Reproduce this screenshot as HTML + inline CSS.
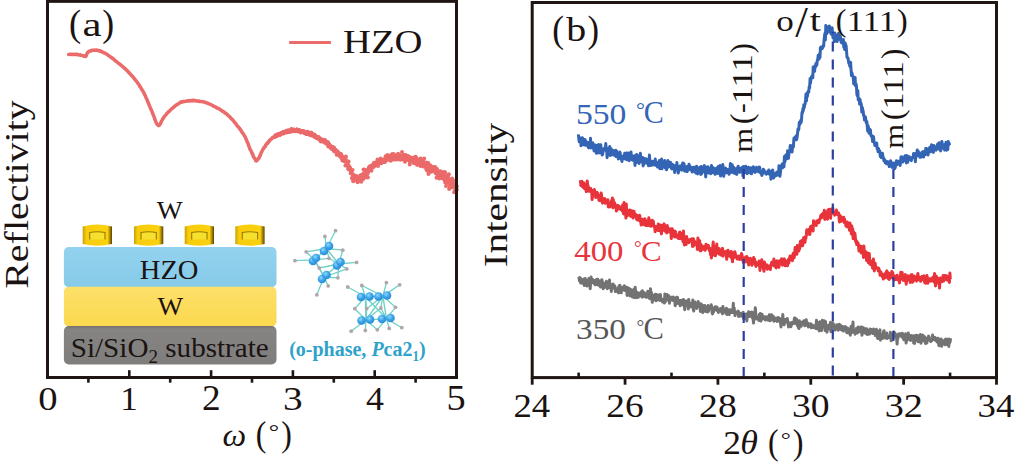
<!DOCTYPE html>
<html><head><meta charset="utf-8"><title>Figure</title>
<style>html,body{margin:0;padding:0;background:#fff;width:1016px;height:462px;overflow:hidden}svg{display:block}</style>
</head><body>
<svg width="1016" height="462" viewBox="0 0 1016 462" style="font-family:'Liberation Serif', serif">
<rect width="1016" height="462" fill="#fff"/>
<defs><linearGradient id="gb" x1="0" y1="0" x2="0" y2="1"><stop offset="0" stop-color="#93d2ee"/><stop offset="1" stop-color="#86cbe9"/></linearGradient><linearGradient id="gy" x1="0" y1="0" x2="0" y2="1"><stop offset="0" stop-color="#fde06a"/><stop offset="1" stop-color="#fbd84e"/></linearGradient><linearGradient id="gg" x1="0" y1="0" x2="0" y2="1"><stop offset="0" stop-color="#75706f"/><stop offset="0.08" stop-color="#858483"/><stop offset="1" stop-color="#7f7e7c"/></linearGradient><linearGradient id="gp" x1="0" y1="0" x2="1" y2="0"><stop offset="0" stop-color="#c9a000"/><stop offset="0.12" stop-color="#f7cc0a"/><stop offset="0.85" stop-color="#fbd210"/><stop offset="1" stop-color="#5a4000"/></linearGradient></defs>
<rect x="63.9" y="247" width="212.6" height="40.2" rx="5" fill="url(#gb)"/>
<rect x="63.9" y="286.8" width="212.6" height="39.6" rx="5" fill="url(#gy)"/>
<rect x="63.9" y="326" width="212.6" height="38.5" rx="5" fill="url(#gg)"/>
<path d="M82.7,226.5 Q97.35,222.5 112,226.5 L112,244 Q97.35,247.5 82.7,244 Z" fill="url(#gp)"/>
<path d="M89.7,239.5 L89.7,232.5 Q97.35,231 105,232.5 L105,239.5" fill="#f5e030" stroke="#9a7a00" stroke-width="1.1"/>
<path d="M134,226.5 Q148.65,222.5 163.3,226.5 L163.3,244 Q148.65,247.5 134,244 Z" fill="url(#gp)"/>
<path d="M141,239.5 L141,232.5 Q148.65,231 156.3,232.5 L156.3,239.5" fill="#f5e030" stroke="#9a7a00" stroke-width="1.1"/>
<path d="M184.7,226.5 Q199.35,222.5 214,226.5 L214,244 Q199.35,247.5 184.7,244 Z" fill="url(#gp)"/>
<path d="M191.7,239.5 L191.7,232.5 Q199.35,231 207,232.5 L207,239.5" fill="#f5e030" stroke="#9a7a00" stroke-width="1.1"/>
<path d="M235.3,226.5 Q249.95,222.5 264.6,226.5 L264.6,244 Q249.95,247.5 235.3,244 Z" fill="url(#gp)"/>
<path d="M242.3,239.5 L242.3,232.5 Q249.95,231 257.6,232.5 L257.6,239.5" fill="#f5e030" stroke="#9a7a00" stroke-width="1.1"/>
<defs><radialGradient id="ball" cx="0.4" cy="0.35" r="0.65"><stop offset="0" stop-color="#8fd8fb"/><stop offset="0.55" stop-color="#3aa3e8"/><stop offset="1" stop-color="#2a8ad6"/></radialGradient><filter id="soft" x="-10%" y="-10%" width="120%" height="120%"><feGaussianBlur stdDeviation="0.6"/></filter></defs>
<g filter="url(#soft)">
<line x1="314.4" y1="259.9" x2="326.5" y2="248.5" stroke="#6fd3c6" stroke-width="1.4"/>
<line x1="326.5" y1="248.5" x2="338.7" y2="264.0" stroke="#6fd3c6" stroke-width="1.4"/>
<line x1="338.7" y1="264.0" x2="324.1" y2="277.0" stroke="#6fd3c6" stroke-width="1.4"/>
<line x1="324.1" y1="277.0" x2="314.4" y2="259.9" stroke="#6fd3c6" stroke-width="1.4"/>
<line x1="335.5" y1="230.7" x2="326.5" y2="248.5" stroke="#6fd3c6" stroke-width="1.3"/>
<line x1="324.9" y1="236.4" x2="326.5" y2="248.5" stroke="#6fd3c6" stroke-width="1.3"/>
<line x1="306.2" y1="251.8" x2="314.4" y2="259.9" stroke="#6fd3c6" stroke-width="1.3"/>
<line x1="294.9" y1="260.7" x2="314.4" y2="259.9" stroke="#6fd3c6" stroke-width="1.3"/>
<line x1="342.8" y1="250.2" x2="326.5" y2="248.5" stroke="#6fd3c6" stroke-width="1.3"/>
<line x1="342.8" y1="250.2" x2="338.7" y2="264.0" stroke="#6fd3c6" stroke-width="1.3"/>
<line x1="356.6" y1="262.4" x2="338.7" y2="264.0" stroke="#6fd3c6" stroke-width="1.3"/>
<line x1="346.8" y1="268.9" x2="338.7" y2="264.0" stroke="#6fd3c6" stroke-width="1.3"/>
<line x1="337.9" y1="277.8" x2="338.7" y2="264.0" stroke="#6fd3c6" stroke-width="1.3"/>
<line x1="337.9" y1="277.8" x2="324.1" y2="277.0" stroke="#6fd3c6" stroke-width="1.3"/>
<line x1="328.2" y1="285.9" x2="324.1" y2="277.0" stroke="#6fd3c6" stroke-width="1.3"/>
<line x1="316.8" y1="294.8" x2="324.1" y2="277.0" stroke="#6fd3c6" stroke-width="1.3"/>
<line x1="319.2" y1="268.0" x2="314.4" y2="259.9" stroke="#6fd3c6" stroke-width="1.3"/>
<line x1="319.2" y1="268.0" x2="324.1" y2="277.0" stroke="#6fd3c6" stroke-width="1.3"/>
<line x1="329.0" y1="258.3" x2="326.5" y2="248.5" stroke="#6fd3c6" stroke-width="1.3"/>
<line x1="329.0" y1="258.3" x2="338.7" y2="264.0" stroke="#6fd3c6" stroke-width="1.3"/>
<line x1="306.2" y1="251.8" x2="326.5" y2="248.5" stroke="#6fd3c6" stroke-width="1.3"/>
<line x1="346.8" y1="268.9" x2="324.1" y2="277.0" stroke="#6fd3c6" stroke-width="1.3"/>
<line x1="319.2" y1="268.0" x2="338.7" y2="264.0" stroke="#6fd3c6" stroke-width="1.3"/>
<line x1="329.0" y1="258.3" x2="314.4" y2="259.9" stroke="#6fd3c6" stroke-width="1.3"/>
<circle cx="335.5" cy="230.7" r="1.9" fill="#b3a6ab"/>
<circle cx="324.9" cy="236.4" r="1.9" fill="#b3a6ab"/>
<circle cx="306.2" cy="251.8" r="1.9" fill="#b3a6ab"/>
<circle cx="294.9" cy="260.7" r="1.9" fill="#b3a6ab"/>
<circle cx="342.8" cy="250.2" r="1.9" fill="#b3a6ab"/>
<circle cx="356.6" cy="262.4" r="1.9" fill="#b3a6ab"/>
<circle cx="346.8" cy="268.9" r="1.9" fill="#b3a6ab"/>
<circle cx="337.9" cy="277.8" r="1.9" fill="#b3a6ab"/>
<circle cx="328.2" cy="285.9" r="1.9" fill="#b3a6ab"/>
<circle cx="316.8" cy="294.8" r="1.9" fill="#b3a6ab"/>
<circle cx="319.2" cy="268.0" r="1.9" fill="#b3a6ab"/>
<circle cx="329.0" cy="258.3" r="1.9" fill="#b3a6ab"/>
<circle cx="313" cy="261" r="4.3" fill="url(#ball)"/>
<circle cx="316" cy="258" r="4.3" fill="url(#ball)"/>
<circle cx="324" cy="251" r="4.3" fill="url(#ball)"/>
<circle cx="329" cy="246" r="4.3" fill="url(#ball)"/>
<circle cx="337" cy="265.5" r="4.3" fill="url(#ball)"/>
<circle cx="340.5" cy="262" r="4.3" fill="url(#ball)"/>
<circle cx="322" cy="279" r="4.3" fill="url(#ball)"/>
<circle cx="326.5" cy="275" r="4.3" fill="url(#ball)"/>
<line x1="365.3" y1="296.8" x2="382.9" y2="296.1" stroke="#6fd3c6" stroke-width="1.4"/>
<line x1="366.0" y1="320.0" x2="386.4" y2="318.6" stroke="#6fd3c6" stroke-width="1.4"/>
<line x1="365.3" y1="296.8" x2="366.0" y2="320.0" stroke="#6fd3c6" stroke-width="1.4"/>
<line x1="382.9" y1="296.1" x2="386.4" y2="318.6" stroke="#6fd3c6" stroke-width="1.4"/>
<line x1="365.3" y1="296.8" x2="386.4" y2="318.6" stroke="#6fd3c6" stroke-width="1.4"/>
<line x1="382.9" y1="296.1" x2="366.0" y2="320.0" stroke="#6fd3c6" stroke-width="1.4"/>
<line x1="347.7" y1="287.0" x2="365.3" y2="296.8" stroke="#6fd3c6" stroke-width="1.3"/>
<line x1="361.8" y1="285.5" x2="365.3" y2="296.8" stroke="#6fd3c6" stroke-width="1.3"/>
<line x1="361.8" y1="285.5" x2="382.9" y2="296.1" stroke="#6fd3c6" stroke-width="1.3"/>
<line x1="386.4" y1="282.7" x2="382.9" y2="296.1" stroke="#6fd3c6" stroke-width="1.3"/>
<line x1="399.7" y1="284.8" x2="382.9" y2="296.1" stroke="#6fd3c6" stroke-width="1.3"/>
<line x1="354.8" y1="308.7" x2="365.3" y2="296.8" stroke="#6fd3c6" stroke-width="1.3"/>
<line x1="354.8" y1="308.7" x2="366.0" y2="320.0" stroke="#6fd3c6" stroke-width="1.3"/>
<line x1="366.7" y1="308.7" x2="365.3" y2="296.8" stroke="#6fd3c6" stroke-width="1.3"/>
<line x1="366.7" y1="308.7" x2="366.0" y2="320.0" stroke="#6fd3c6" stroke-width="1.3"/>
<line x1="366.7" y1="308.7" x2="382.9" y2="296.1" stroke="#6fd3c6" stroke-width="1.3"/>
<line x1="380.8" y1="308.0" x2="382.9" y2="296.1" stroke="#6fd3c6" stroke-width="1.3"/>
<line x1="380.8" y1="308.0" x2="386.4" y2="318.6" stroke="#6fd3c6" stroke-width="1.3"/>
<line x1="380.8" y1="308.0" x2="366.0" y2="320.0" stroke="#6fd3c6" stroke-width="1.3"/>
<line x1="395.5" y1="307.3" x2="382.9" y2="296.1" stroke="#6fd3c6" stroke-width="1.3"/>
<line x1="395.5" y1="307.3" x2="386.4" y2="318.6" stroke="#6fd3c6" stroke-width="1.3"/>
<line x1="351.2" y1="331.2" x2="366.0" y2="320.0" stroke="#6fd3c6" stroke-width="1.3"/>
<line x1="365.3" y1="330.5" x2="366.0" y2="320.0" stroke="#6fd3c6" stroke-width="1.3"/>
<line x1="377.3" y1="329.8" x2="386.4" y2="318.6" stroke="#6fd3c6" stroke-width="1.3"/>
<line x1="377.3" y1="329.8" x2="366.0" y2="320.0" stroke="#6fd3c6" stroke-width="1.3"/>
<line x1="389.2" y1="328.4" x2="386.4" y2="318.6" stroke="#6fd3c6" stroke-width="1.3"/>
<line x1="401.8" y1="327.7" x2="386.4" y2="318.6" stroke="#6fd3c6" stroke-width="1.3"/>
<circle cx="347.7" cy="287.0" r="1.9" fill="#b3a6ab"/>
<circle cx="361.8" cy="285.5" r="1.9" fill="#b3a6ab"/>
<circle cx="386.4" cy="282.7" r="1.9" fill="#b3a6ab"/>
<circle cx="399.7" cy="284.8" r="1.9" fill="#b3a6ab"/>
<circle cx="354.8" cy="308.7" r="1.9" fill="#b3a6ab"/>
<circle cx="366.7" cy="308.7" r="1.9" fill="#b3a6ab"/>
<circle cx="380.8" cy="308.0" r="1.9" fill="#b3a6ab"/>
<circle cx="395.5" cy="307.3" r="1.9" fill="#b3a6ab"/>
<circle cx="351.2" cy="331.2" r="1.9" fill="#b3a6ab"/>
<circle cx="365.3" cy="330.5" r="1.9" fill="#b3a6ab"/>
<circle cx="377.3" cy="329.8" r="1.9" fill="#b3a6ab"/>
<circle cx="389.2" cy="328.4" r="1.9" fill="#b3a6ab"/>
<circle cx="401.8" cy="327.7" r="1.9" fill="#b3a6ab"/>
<circle cx="361" cy="297" r="4.3" fill="url(#ball)"/>
<circle cx="369.5" cy="296.5" r="4.3" fill="url(#ball)"/>
<circle cx="378.5" cy="296.5" r="4.3" fill="url(#ball)"/>
<circle cx="387" cy="295.5" r="4.3" fill="url(#ball)"/>
<circle cx="361.5" cy="320.5" r="4.3" fill="url(#ball)"/>
<circle cx="370" cy="319.5" r="4.3" fill="url(#ball)"/>
<circle cx="382" cy="319" r="4.3" fill="url(#ball)"/>
<circle cx="390.5" cy="318" r="4.3" fill="url(#ball)"/>
</g>
<path d="M68.6,54.4 L69.0,54.4 L69.5,54.4 L70.0,54.3 L70.4,54.3 L70.9,54.3 L71.3,54.4 L71.8,54.6 L72.2,54.3 L72.7,54.3 L73.1,54.5 L73.6,54.5 L74.0,54.4 L74.5,54.3 L74.9,54.4 L75.4,54.5 L75.8,54.3 L76.3,54.4 L76.7,54.3 L77.2,54.4 L77.6,54.4 L78.1,54.7 L78.5,54.7 L79.0,55.0 L79.4,55.0 L79.9,55.0 L80.3,54.8 L80.8,55.2 L81.2,55.3 L81.7,55.5 L82.1,55.4 L82.6,55.6 L83.0,55.7 L83.5,55.8 L83.9,56.2 L84.4,56.1 L84.8,56.3 L85.3,56.6 L85.7,56.4 L86.2,55.8 L86.6,54.6 L87.1,53.4 L87.5,52.5 L88.0,52.3 L88.4,52.1 L88.9,51.3 L89.3,51.4 L89.8,51.1 L90.2,50.8 L90.7,51.0 L91.1,50.7 L91.6,50.3 L92.0,50.4 L92.5,50.4 L92.9,50.2 L93.4,50.3 L93.8,50.1 L94.3,50.2 L94.7,50.3 L95.2,50.0 L95.6,50.2 L96.1,50.1 L96.5,50.3 L97.0,50.1 L97.4,50.3 L97.9,50.4 L98.3,50.7 L98.8,50.8 L99.2,50.6 L99.7,50.8 L100.1,51.2 L100.6,50.9 L101.0,51.3 L101.5,51.6 L101.9,52.0 L102.4,52.1 L102.8,52.1 L103.3,52.3 L103.7,52.5 L104.2,53.0 L104.6,53.0 L105.1,53.2 L105.5,53.6 L106.0,53.8 L106.4,54.0 L106.9,54.2 L107.3,54.6 L107.8,54.9 L108.2,55.4 L108.7,55.6 L109.1,55.9 L109.6,56.3 L110.0,56.5 L110.5,57.0 L110.9,57.2 L111.4,57.6 L111.8,57.7 L112.3,58.3 L112.7,58.3 L113.2,58.6 L113.6,59.2 L114.1,59.5 L114.5,60.0 L115.0,60.7 L115.4,60.6 L115.9,61.0 L116.3,61.5 L116.8,61.9 L117.2,62.1 L117.7,62.5 L118.1,63.0 L118.6,63.3 L119.0,63.4 L119.5,64.0 L119.9,64.3 L120.4,64.5 L120.8,65.1 L121.3,65.3 L121.7,66.0 L122.2,66.2 L122.6,66.6 L123.1,66.9 L123.5,67.4 L124.0,67.5 L124.4,68.0 L124.9,68.7 L125.3,68.7 L125.8,69.6 L126.2,69.6 L126.7,70.4 L127.1,70.6 L127.6,71.3 L128.0,71.6 L128.5,71.8 L128.9,72.7 L129.4,73.2 L129.8,73.4 L130.3,73.9 L130.7,74.4 L131.2,74.8 L131.6,75.6 L132.1,75.9 L132.5,76.4 L133.0,76.9 L133.4,77.4 L133.9,77.9 L134.3,78.8 L134.8,79.2 L135.2,79.9 L135.7,80.3 L136.1,80.8 L136.6,81.5 L137.0,82.1 L137.5,82.8 L137.9,83.4 L138.4,84.0 L138.8,84.5 L139.3,85.3 L139.7,86.3 L140.2,86.7 L140.6,87.3 L141.1,88.3 L141.5,89.1 L142.0,89.5 L142.4,90.4 L142.9,91.1 L143.3,91.7 L143.8,92.9 L144.2,93.7 L144.7,94.6 L145.1,95.4 L145.6,96.6 L146.0,97.5 L146.5,98.6 L146.9,99.5 L147.4,100.5 L147.8,102.0 L148.3,102.8 L148.7,104.0 L149.2,105.1 L149.6,106.1 L150.1,107.2 L150.5,108.4 L151.0,109.3 L151.4,110.3 L151.9,111.3 L152.3,112.6 L152.8,113.6 L153.2,114.8 L153.7,115.9 L154.1,117.0 L154.6,118.6 L155.0,119.8 L155.5,120.8 L155.9,122.0 L156.4,123.0 L156.8,123.8 L157.3,124.6 L157.7,124.9 L158.2,125.5 L158.6,125.2 L159.1,125.4 L159.5,124.9 L160.0,124.4 L160.4,123.8 L160.9,122.8 L161.3,121.5 L161.8,120.5 L162.2,120.0 L162.7,118.9 L163.1,118.4 L163.6,117.9 L164.0,116.9 L164.5,116.2 L164.9,116.0 L165.4,115.4 L165.8,114.8 L166.3,114.4 L166.7,113.7 L167.2,113.1 L167.6,112.8 L168.1,112.2 L168.5,111.7 L169.0,111.6 L169.4,111.1 L169.9,110.7 L170.3,110.1 L170.8,109.7 L171.2,109.2 L171.7,108.8 L172.1,108.5 L172.6,108.0 L173.0,107.7 L173.5,107.3 L173.9,107.2 L174.4,106.3 L174.8,106.3 L175.3,105.8 L175.7,105.4 L176.2,104.9 L176.6,104.8 L177.1,104.7 L177.5,104.3 L178.0,104.0 L178.4,103.7 L178.9,103.6 L179.3,103.2 L179.8,102.6 L180.2,102.6 L180.7,102.2 L181.1,101.8 L181.6,102.0 L182.0,102.2 L182.5,101.8 L182.9,101.5 L183.4,101.5 L183.8,101.7 L184.3,101.5 L184.7,101.4 L185.2,101.3 L185.6,101.2 L186.1,101.3 L186.5,101.2 L187.0,101.1 L187.4,100.8 L187.9,101.0 L188.3,100.8 L188.8,101.0 L189.2,100.6 L189.7,100.7 L190.1,100.7 L190.6,100.5 L191.0,100.9 L191.5,100.8 L191.9,100.5 L192.4,100.7 L192.8,100.7 L193.3,100.2 L193.7,100.7 L194.2,100.6 L194.6,100.7 L195.1,100.5 L195.5,100.7 L196.0,100.7 L196.4,101.0 L196.9,100.9 L197.3,100.9 L197.8,101.2 L198.2,100.9 L198.7,101.0 L199.1,100.9 L199.6,101.4 L200.0,101.4 L200.5,101.5 L200.9,101.5 L201.4,101.5 L201.8,101.6 L202.3,101.6 L202.7,101.7 L203.2,101.8 L203.6,102.1 L204.1,102.1 L204.5,102.1 L205.0,102.2 L205.4,102.3 L205.9,102.8 L206.3,102.8 L206.8,102.9 L207.2,103.0 L207.7,103.1 L208.1,103.4 L208.6,103.7 L209.0,103.8 L209.5,104.0 L209.9,104.2 L210.4,104.4 L210.8,104.4 L211.3,104.8 L211.7,105.0 L212.2,105.4 L212.6,105.4 L213.1,105.8 L213.5,106.2 L214.0,106.2 L214.4,106.4 L214.9,106.7 L215.3,106.9 L215.8,107.0 L216.2,107.4 L216.7,107.9 L217.1,107.8 L217.6,108.0 L218.0,108.2 L218.5,108.6 L218.9,108.6 L219.4,108.9 L219.8,109.5 L220.3,109.5 L220.7,110.1 L221.2,110.4 L221.6,110.5 L222.1,110.8 L222.5,111.3 L223.0,111.3 L223.4,111.6 L223.9,111.8 L224.3,112.3 L224.8,112.9 L225.2,113.1 L225.7,113.2 L226.1,113.5 L226.6,113.9 L227.0,114.4 L227.5,114.7 L227.9,115.2 L228.4,115.6 L228.8,115.9 L229.3,116.4 L229.7,116.8 L230.2,117.3 L230.6,117.8 L231.1,118.5 L231.5,118.8 L232.0,119.2 L232.4,119.5 L232.9,120.3 L233.3,120.5 L233.8,121.1 L234.2,122.0 L234.7,122.6 L235.1,123.0 L235.6,123.3 L236.0,124.1 L236.5,124.6 L236.9,125.3 L237.4,126.2 L237.8,126.4 L238.3,126.8 L238.7,127.3 L239.2,128.1 L239.6,128.6 L240.1,129.1 L240.5,129.9 L241.0,130.3 L241.4,131.3 L241.9,131.9 L242.3,132.6 L242.8,133.0 L243.2,133.9 L243.7,134.5 L244.1,135.2 L244.6,136.0 L245.0,136.6 L245.5,137.5 L245.9,138.9 L246.4,139.7 L246.8,140.9 L247.3,142.2 L247.7,142.7 L248.2,144.1 L248.6,145.5 L249.1,146.7 L249.5,147.6 L250.0,149.1 L250.4,149.9 L250.9,150.5 L251.3,151.4 L251.8,152.8 L252.2,153.7 L252.7,154.0 L253.1,155.9 L253.6,156.7 L254.0,157.8 L254.5,158.1 L254.9,158.8 L255.4,159.2 L255.8,160.8 L256.3,160.2 L256.7,160.8 L257.2,159.9 L257.6,159.8 L258.1,158.7 L258.5,158.5 L259.0,158.2 L259.4,156.5 L259.9,156.4 L260.3,155.1 L260.8,153.6 L261.2,152.8 L261.7,151.8 L262.1,151.0 L262.6,150.0 L263.0,149.1 L263.5,148.7 L263.9,147.7 L264.4,147.0 L264.8,146.8 L265.3,146.6 L265.7,144.9 L266.2,144.9 L266.6,144.0 L267.1,143.2 L267.5,143.4 L268.0,142.2 L268.4,142.6 L268.9,141.0 L269.3,141.0 L269.8,140.3 L270.2,139.5 L270.7,139.7 L271.1,139.0 L271.6,139.0 L272.0,138.3 L272.5,137.5 L272.9,137.7 L273.4,137.5 L273.8,137.6 L274.3,136.4 L274.7,136.6 L275.2,135.4 L275.6,136.5 L276.1,135.3 L276.5,134.7 L277.0,135.4 L277.4,135.8 L277.9,134.1 L278.3,134.2 L278.8,134.2 L279.2,133.7 L279.7,134.4 L280.1,133.5 L280.6,133.4 L281.0,134.0 L281.5,133.0 L281.9,133.5 L282.4,132.5 L282.8,132.2 L283.3,131.6 L283.7,133.7 L284.2,132.2 L284.6,132.3 L285.1,132.0 L285.5,131.9 L286.0,131.7 L286.4,132.8 L286.9,130.7 L287.3,130.3 L287.8,130.5 L288.2,130.2 L288.7,131.6 L289.1,131.6 L289.6,130.3 L290.0,129.9 L290.5,130.6 L290.9,131.8 L291.4,128.7 L291.8,131.1 L292.3,129.9 L292.7,131.4 L293.2,129.8 L293.6,130.3 L294.1,129.4 L294.5,129.8 L295.0,131.5 L295.4,131.1 L295.9,130.2 L296.3,129.9 L296.8,129.1 L297.2,130.3 L297.7,130.6 L298.1,130.6 L298.6,130.7 L299.0,129.9 L299.5,130.9 L299.9,131.0 L300.4,132.1 L300.8,132.7 L301.3,131.2 L301.7,130.8 L302.2,131.5 L302.6,131.2 L303.1,131.2 L303.5,131.9 L304.0,131.2 L304.4,132.6 L304.9,132.2 L305.3,132.6 L305.8,132.4 L306.2,132.1 L306.7,132.0 L307.1,132.7 L307.6,132.6 L308.0,133.4 L308.5,133.4 L308.9,132.5 L309.4,133.8 L309.8,132.8 L310.3,133.6 L310.7,134.1 L311.2,132.8 L311.6,134.8 L312.1,135.0 L312.5,135.0 L313.0,135.0 L313.4,135.2 L313.9,134.9 L314.3,135.7 L314.8,135.7 L315.2,136.5 L315.7,135.7 L316.1,137.0 L316.6,137.2 L317.0,137.2 L317.5,137.2 L317.9,138.2 L318.4,136.7 L318.8,138.6 L319.3,138.7 L319.7,139.0 L320.2,139.4 L320.6,138.8 L321.1,139.4 L321.5,140.4 L322.0,140.5 L322.4,140.6 L322.9,139.6 L323.3,141.5 L323.8,142.3 L324.2,142.5 L324.7,142.2 L325.1,141.1 L325.6,143.4 L326.0,142.9 L326.5,141.3 L326.9,143.9 L327.4,142.8 L327.8,143.3 L328.3,144.1 L328.7,146.0 L329.2,145.1 L329.6,145.9 L330.1,147.5 L330.5,147.7 L331.0,146.7 L331.4,147.0 L331.9,146.6 L332.3,147.4 L332.8,148.7 L333.2,149.1 L333.7,149.3 L334.1,150.4 L334.6,149.4 L335.0,150.4 L335.5,151.5 L335.9,151.8 L336.4,152.6 L336.8,152.5 L337.3,152.4 L337.7,153.4 L338.2,152.7 L338.6,152.7 L339.1,154.9 L339.5,154.9 L340.0,155.6 L340.4,154.5 L340.9,156.0 L341.3,156.3 L341.8,156.5 L342.2,155.9 L342.7,157.9 L343.1,159.4 L343.6,159.5 L344.0,159.3 L344.5,160.3 L344.9,161.5 L345.4,159.2 L345.8,161.9 L346.3,163.1 L346.7,163.9 L347.2,165.5 L347.6,165.8 L348.1,166.0 L348.5,166.8 L349.0,168.1 L349.4,167.9 L349.9,169.2 L350.3,170.9 L350.8,172.5 L351.2,171.6 L351.7,172.4 L352.1,173.3 L352.6,174.9 L353.0,174.5 L353.5,176.4 L353.9,175.2 L354.4,176.5 L354.8,177.1 L355.3,178.5 L355.7,179.3 L356.2,177.7 L356.6,178.5 L357.1,179.7 L357.5,179.0 L358.0,178.3 L358.4,180.2 L358.9,179.6 L359.3,179.4 L359.8,178.4 L360.2,179.4 L360.7,178.1 L361.1,178.8 L361.6,176.8 L362.0,176.5 L362.5,177.0 L362.9,175.9 L363.4,176.6 L363.8,175.9 L364.3,174.5 L364.7,174.9 L365.2,174.0 L365.6,174.5 L366.1,172.6 L366.5,172.1 L367.0,172.8 L367.4,172.9 L367.9,172.1 L368.3,169.9 L368.8,169.5 L369.2,170.0 L369.7,168.2 L370.1,167.1 L370.6,167.7 L371.0,167.6 L371.5,166.3 L371.9,165.3 L372.4,165.2 L372.8,166.6 L373.3,165.2 L373.7,165.4 L374.2,165.4 L374.6,165.5 L375.1,164.5 L375.5,165.0 L376.0,163.6 L376.4,163.8 L376.9,163.1 L377.3,164.6 L377.8,163.4 L378.2,162.6 L378.7,162.7 L379.1,162.6 L379.6,163.1 L380.0,161.0 L380.5,161.2 L380.9,161.5 L381.4,163.5 L381.8,162.0 L382.3,160.8 L382.7,161.2 L383.2,162.0 L383.6,159.9 L384.1,159.5 L384.5,160.5 L385.0,159.6 L385.4,159.5 L385.9,158.3 L386.3,160.1 L386.8,159.7 L387.2,158.6 L387.7,158.5 L388.1,156.2 L388.6,158.2 L389.0,157.5 L389.5,157.9 L389.9,158.0 L390.4,157.2 L390.8,156.0 L391.3,157.6 L391.7,156.6 L392.2,156.9 L392.6,156.6 L393.1,156.8 L393.5,155.2 L394.0,157.9 L394.4,157.1 L394.9,157.8 L395.3,158.4 L395.8,156.9 L396.2,155.4 L396.7,156.1 L397.1,155.8 L397.6,156.4 L398.0,156.9 L398.5,155.2 L398.9,157.1 L399.4,155.7 L399.8,157.1 L400.3,156.9 L400.7,156.7 L401.2,157.0 L401.6,156.7 L402.1,156.6 L402.5,155.8 L403.0,157.2 L403.4,158.8 L403.9,159.0 L404.3,158.5 L404.8,158.1 L405.2,157.0 L405.7,158.8 L406.1,157.7 L406.6,157.7 L407.0,157.6 L407.5,158.0 L407.9,157.7 L408.4,158.1 L408.8,157.4 L409.3,158.0 L409.7,160.3 L410.2,158.5 L410.6,158.5 L411.1,159.2 L411.5,159.5 L412.0,158.2 L412.4,159.0 L412.9,160.1 L413.3,159.7 L413.8,159.7 L414.2,161.0 L414.7,159.4 L415.1,160.2 L415.6,159.8 L416.0,161.6 L416.5,159.0 L416.9,160.2 L417.4,160.5 L417.8,161.6 L418.3,161.7 L418.7,162.6 L419.2,160.4 L419.6,162.5 L420.1,161.8 L420.5,161.8 L421.0,163.0 L421.4,162.0 L421.9,161.4 L422.3,163.0 L422.8,162.4 L423.2,163.3 L423.7,164.4 L424.1,164.6 L424.6,165.9 L425.0,164.8 L425.5,164.0 L425.9,164.9 L426.4,165.1 L426.8,165.1 L427.3,166.8 L427.7,166.2 L428.2,165.4 L428.6,167.8 L429.1,167.5 L429.5,168.1 L430.0,168.2 L430.4,168.9 L430.9,168.7 L431.3,170.0 L431.8,169.6 L432.2,169.9 L432.7,170.2 L433.1,169.0 L433.6,170.4 L434.0,170.6 L434.5,171.3 L434.9,170.4 L435.4,173.1 L435.8,172.1 L436.3,171.4 L436.7,171.3 L437.2,172.8 L437.6,173.2 L438.1,173.0 L438.5,174.0 L439.0,173.7 L439.4,175.0 L439.9,174.3 L440.3,175.1 L440.8,176.2 L441.2,177.8 L441.7,175.2 L442.1,175.9 L442.6,175.9 L443.0,177.5 L443.5,176.3 L443.9,177.1 L444.4,177.8 L444.8,177.3 L445.3,177.6 L445.7,178.3 L446.2,177.3 L446.6,178.2 L447.1,179.4 L447.5,180.1 L448.0,180.2 L448.4,179.3 L448.9,180.7 L449.3,182.1 L449.8,182.3 L450.2,182.2 L450.7,182.0 L451.1,183.7 L451.6,183.2 L452.0,183.2 L452.5,183.9 L452.9,186.2 L453.4,185.8 L453.8,187.0 L454.3,186.2 L454.7,187.9 L455.2,187.2 L455.6,188.1 L456.1,190.8 L456.5,190.0 L457.0,189.5" fill="none" stroke="#eb6a6a" stroke-width="3.5" stroke-linejoin="round" stroke-linecap="round"/>
<g fill="#eb6a6a"><circle cx="274.9" cy="136.4" r="2.0"/><circle cx="274.9" cy="136.4" r="2.0"/><circle cx="275.7" cy="136.4" r="2.0"/><circle cx="276.5" cy="135.8" r="2.0"/><circle cx="276.1" cy="135.2" r="2.0"/><circle cx="276.7" cy="135.5" r="2.0"/><circle cx="276.7" cy="135.4" r="2.0"/><circle cx="277.0" cy="135.3" r="2.0"/><circle cx="277.3" cy="135.5" r="2.0"/><circle cx="278.4" cy="135.0" r="2.0"/><circle cx="279.0" cy="135.0" r="2.0"/><circle cx="278.8" cy="134.3" r="2.0"/><circle cx="278.7" cy="134.8" r="2.0"/><circle cx="279.5" cy="135.0" r="2.0"/><circle cx="279.5" cy="134.5" r="2.0"/><circle cx="280.2" cy="134.2" r="2.0"/><circle cx="280.4" cy="134.0" r="2.0"/><circle cx="280.7" cy="134.4" r="2.0"/><circle cx="281.1" cy="133.4" r="2.0"/><circle cx="281.1" cy="133.5" r="2.0"/><circle cx="281.5" cy="133.6" r="2.0"/><circle cx="281.4" cy="133.5" r="2.0"/><circle cx="282.1" cy="133.0" r="2.0"/><circle cx="282.2" cy="133.1" r="2.0"/><circle cx="282.9" cy="132.8" r="2.0"/><circle cx="283.0" cy="132.8" r="2.0"/><circle cx="283.6" cy="132.5" r="2.0"/><circle cx="284.0" cy="132.0" r="2.0"/><circle cx="283.8" cy="132.3" r="2.0"/><circle cx="284.3" cy="132.5" r="2.0"/><circle cx="284.6" cy="131.7" r="2.0"/><circle cx="285.5" cy="131.8" r="2.0"/><circle cx="286.1" cy="132.1" r="2.0"/><circle cx="286.1" cy="131.3" r="2.0"/><circle cx="286.1" cy="131.6" r="2.0"/><circle cx="287.0" cy="131.1" r="2.0"/><circle cx="286.4" cy="131.8" r="2.0"/><circle cx="287.7" cy="132.2" r="2.0"/><circle cx="287.3" cy="132.1" r="2.0"/><circle cx="287.0" cy="131.1" r="2.0"/><circle cx="289.0" cy="131.5" r="2.0"/><circle cx="289.0" cy="131.1" r="2.0"/><circle cx="288.6" cy="131.1" r="2.0"/><circle cx="289.2" cy="131.7" r="2.0"/><circle cx="289.5" cy="130.4" r="2.0"/><circle cx="289.9" cy="131.4" r="2.0"/><circle cx="289.7" cy="130.9" r="2.0"/><circle cx="290.3" cy="131.5" r="2.0"/><circle cx="291.0" cy="130.9" r="2.0"/><circle cx="291.2" cy="130.5" r="2.0"/><circle cx="291.9" cy="130.9" r="2.0"/><circle cx="291.9" cy="131.0" r="2.0"/><circle cx="292.9" cy="130.7" r="2.0"/><circle cx="292.3" cy="130.9" r="2.0"/><circle cx="292.9" cy="130.4" r="2.0"/><circle cx="292.6" cy="129.5" r="2.0"/><circle cx="293.1" cy="131.0" r="2.0"/><circle cx="294.2" cy="130.9" r="2.0"/><circle cx="293.9" cy="130.6" r="2.0"/><circle cx="294.6" cy="130.6" r="2.0"/><circle cx="294.8" cy="131.0" r="2.0"/><circle cx="294.8" cy="130.3" r="2.0"/><circle cx="295.4" cy="130.1" r="2.0"/><circle cx="295.6" cy="130.4" r="2.0"/><circle cx="296.0" cy="131.1" r="2.0"/><circle cx="296.7" cy="129.8" r="2.0"/><circle cx="297.0" cy="131.2" r="2.0"/><circle cx="296.9" cy="130.2" r="2.0"/><circle cx="297.2" cy="130.0" r="2.0"/><circle cx="297.9" cy="131.3" r="2.0"/><circle cx="298.1" cy="130.6" r="2.0"/><circle cx="298.7" cy="130.0" r="2.0"/><circle cx="299.6" cy="130.6" r="2.0"/><circle cx="299.3" cy="131.4" r="2.0"/><circle cx="299.4" cy="131.6" r="2.0"/><circle cx="299.7" cy="130.7" r="2.0"/><circle cx="299.8" cy="131.3" r="2.0"/><circle cx="300.1" cy="131.5" r="2.0"/><circle cx="300.4" cy="130.8" r="2.0"/><circle cx="301.0" cy="131.5" r="2.0"/><circle cx="301.3" cy="131.3" r="2.0"/><circle cx="302.0" cy="131.1" r="2.0"/><circle cx="301.9" cy="131.2" r="2.0"/><circle cx="302.3" cy="131.7" r="2.0"/><circle cx="302.4" cy="131.7" r="2.0"/><circle cx="303.5" cy="131.4" r="2.0"/><circle cx="303.5" cy="131.6" r="2.0"/><circle cx="304.2" cy="132.7" r="2.0"/><circle cx="304.3" cy="132.2" r="2.0"/><circle cx="304.8" cy="132.7" r="2.0"/><circle cx="304.6" cy="133.0" r="2.0"/><circle cx="305.2" cy="132.7" r="2.0"/><circle cx="306.2" cy="133.9" r="2.0"/><circle cx="305.3" cy="132.0" r="2.0"/><circle cx="306.4" cy="133.1" r="2.0"/><circle cx="306.9" cy="132.5" r="2.0"/><circle cx="306.8" cy="134.1" r="2.0"/><circle cx="307.2" cy="134.1" r="2.0"/><circle cx="307.7" cy="131.7" r="2.0"/><circle cx="307.5" cy="132.4" r="2.0"/><circle cx="308.1" cy="133.7" r="2.0"/><circle cx="308.1" cy="133.9" r="2.0"/><circle cx="308.5" cy="134.0" r="2.0"/><circle cx="308.8" cy="133.6" r="2.0"/><circle cx="309.3" cy="134.1" r="2.0"/><circle cx="309.7" cy="134.3" r="2.0"/><circle cx="310.1" cy="133.9" r="2.0"/><circle cx="309.9" cy="134.9" r="2.0"/><circle cx="311.2" cy="132.6" r="2.0"/><circle cx="311.3" cy="134.9" r="2.0"/><circle cx="311.5" cy="133.8" r="2.0"/><circle cx="311.5" cy="135.4" r="2.0"/><circle cx="311.9" cy="134.7" r="2.0"/><circle cx="312.5" cy="134.3" r="2.0"/><circle cx="312.7" cy="135.4" r="2.0"/><circle cx="312.4" cy="134.6" r="2.0"/><circle cx="313.5" cy="134.7" r="2.0"/><circle cx="314.5" cy="134.4" r="2.0"/><circle cx="313.4" cy="135.8" r="2.0"/><circle cx="314.6" cy="136.3" r="2.0"/><circle cx="314.7" cy="136.9" r="2.0"/><circle cx="314.9" cy="136.1" r="2.0"/><circle cx="315.7" cy="137.3" r="2.0"/><circle cx="315.2" cy="136.6" r="2.0"/><circle cx="316.0" cy="136.7" r="2.0"/><circle cx="316.7" cy="137.4" r="2.0"/><circle cx="316.5" cy="138.0" r="2.0"/><circle cx="316.8" cy="137.0" r="2.0"/><circle cx="317.3" cy="137.2" r="2.0"/><circle cx="317.4" cy="137.5" r="2.0"/><circle cx="318.4" cy="137.8" r="2.0"/><circle cx="318.0" cy="137.2" r="2.0"/><circle cx="318.8" cy="139.0" r="2.0"/><circle cx="318.5" cy="138.0" r="2.0"/><circle cx="319.4" cy="138.9" r="2.0"/><circle cx="319.5" cy="138.0" r="2.0"/><circle cx="319.1" cy="139.2" r="2.0"/><circle cx="320.2" cy="139.4" r="2.0"/><circle cx="320.2" cy="138.9" r="2.0"/><circle cx="320.7" cy="141.3" r="2.0"/><circle cx="321.7" cy="140.0" r="2.0"/><circle cx="321.2" cy="141.5" r="2.0"/><circle cx="321.5" cy="141.0" r="2.0"/><circle cx="322.6" cy="139.7" r="2.0"/><circle cx="322.6" cy="140.2" r="2.0"/><circle cx="323.3" cy="141.2" r="2.0"/><circle cx="323.3" cy="141.1" r="2.0"/><circle cx="323.2" cy="141.3" r="2.0"/><circle cx="323.8" cy="141.2" r="2.0"/><circle cx="324.5" cy="140.0" r="2.0"/><circle cx="324.8" cy="141.7" r="2.0"/><circle cx="324.8" cy="140.1" r="2.0"/><circle cx="325.2" cy="142.7" r="2.0"/><circle cx="325.5" cy="141.9" r="2.0"/><circle cx="325.6" cy="142.2" r="2.0"/><circle cx="326.7" cy="142.9" r="2.0"/><circle cx="326.5" cy="143.6" r="2.0"/><circle cx="326.5" cy="142.2" r="2.0"/><circle cx="327.0" cy="142.1" r="2.0"/><circle cx="327.7" cy="143.0" r="2.0"/><circle cx="328.0" cy="142.3" r="2.0"/><circle cx="328.1" cy="143.6" r="2.0"/><circle cx="328.3" cy="146.4" r="2.0"/><circle cx="328.8" cy="144.0" r="2.0"/><circle cx="328.6" cy="146.0" r="2.0"/><circle cx="329.0" cy="144.2" r="2.0"/><circle cx="330.0" cy="146.2" r="2.0"/><circle cx="330.0" cy="145.8" r="2.0"/><circle cx="330.6" cy="146.3" r="2.0"/><circle cx="331.1" cy="147.2" r="2.0"/><circle cx="331.3" cy="148.7" r="2.0"/><circle cx="331.4" cy="147.4" r="2.0"/><circle cx="332.4" cy="147.6" r="2.0"/><circle cx="332.3" cy="146.8" r="2.0"/><circle cx="332.3" cy="148.7" r="2.0"/><circle cx="333.0" cy="148.1" r="2.0"/><circle cx="333.2" cy="149.6" r="2.0"/><circle cx="333.1" cy="148.9" r="2.0"/><circle cx="333.8" cy="151.1" r="2.0"/><circle cx="334.0" cy="147.5" r="2.0"/><circle cx="333.8" cy="149.6" r="2.0"/><circle cx="334.7" cy="151.2" r="2.0"/><circle cx="335.0" cy="150.1" r="2.0"/><circle cx="335.3" cy="150.0" r="2.0"/><circle cx="335.2" cy="150.9" r="2.0"/><circle cx="335.9" cy="150.0" r="2.0"/><circle cx="336.4" cy="151.9" r="2.0"/><circle cx="336.7" cy="154.8" r="2.0"/><circle cx="336.7" cy="153.7" r="2.0"/><circle cx="337.6" cy="151.5" r="2.0"/><circle cx="337.3" cy="152.1" r="2.0"/><circle cx="338.0" cy="153.0" r="2.0"/><circle cx="338.8" cy="154.9" r="2.0"/><circle cx="338.5" cy="153.2" r="2.0"/><circle cx="338.9" cy="153.6" r="2.0"/><circle cx="339.7" cy="155.8" r="2.0"/><circle cx="339.6" cy="156.1" r="2.0"/><circle cx="339.9" cy="155.0" r="2.0"/><circle cx="340.4" cy="154.5" r="2.0"/><circle cx="341.0" cy="154.3" r="2.0"/><circle cx="340.3" cy="155.6" r="2.0"/><circle cx="341.1" cy="154.2" r="2.0"/><circle cx="341.3" cy="158.0" r="2.0"/><circle cx="341.7" cy="156.7" r="2.0"/><circle cx="342.1" cy="158.4" r="2.0"/><circle cx="342.4" cy="160.4" r="2.0"/><circle cx="343.1" cy="160.0" r="2.0"/><circle cx="343.0" cy="157.6" r="2.0"/><circle cx="343.7" cy="160.4" r="2.0"/><circle cx="344.1" cy="161.1" r="2.0"/><circle cx="344.1" cy="159.2" r="2.0"/><circle cx="344.7" cy="159.4" r="2.0"/><circle cx="345.5" cy="160.8" r="2.0"/><circle cx="345.4" cy="157.5" r="2.0"/><circle cx="345.4" cy="165.4" r="2.0"/><circle cx="345.9" cy="156.4" r="2.0"/><circle cx="346.0" cy="160.0" r="2.0"/><circle cx="346.7" cy="162.5" r="2.0"/><circle cx="347.2" cy="163.2" r="2.0"/><circle cx="347.0" cy="164.7" r="2.0"/><circle cx="347.5" cy="165.6" r="2.0"/><circle cx="348.3" cy="165.0" r="2.0"/><circle cx="348.1" cy="168.9" r="2.0"/><circle cx="348.6" cy="161.5" r="2.0"/><circle cx="348.6" cy="167.4" r="2.0"/><circle cx="349.0" cy="166.3" r="2.0"/><circle cx="349.4" cy="169.1" r="2.0"/><circle cx="350.6" cy="169.9" r="2.0"/><circle cx="350.1" cy="167.7" r="2.0"/><circle cx="350.4" cy="169.0" r="2.0"/><circle cx="350.7" cy="173.2" r="2.0"/><circle cx="351.2" cy="172.7" r="2.0"/><circle cx="351.8" cy="170.6" r="2.0"/><circle cx="351.9" cy="178.0" r="2.0"/><circle cx="352.8" cy="179.2" r="2.0"/><circle cx="352.6" cy="170.1" r="2.0"/><circle cx="353.3" cy="175.1" r="2.0"/><circle cx="353.3" cy="181.2" r="2.0"/><circle cx="353.7" cy="177.4" r="2.0"/><circle cx="353.4" cy="176.5" r="2.0"/><circle cx="354.2" cy="175.9" r="2.0"/><circle cx="354.5" cy="175.5" r="2.0"/><circle cx="354.8" cy="176.8" r="2.0"/><circle cx="354.5" cy="176.4" r="2.0"/><circle cx="355.8" cy="180.1" r="2.0"/><circle cx="355.7" cy="177.6" r="2.0"/><circle cx="356.0" cy="177.8" r="2.0"/><circle cx="356.4" cy="176.0" r="2.0"/><circle cx="356.8" cy="179.2" r="2.0"/><circle cx="357.3" cy="177.1" r="2.0"/><circle cx="357.1" cy="179.0" r="2.0"/><circle cx="357.6" cy="182.2" r="2.0"/><circle cx="358.2" cy="180.4" r="2.0"/><circle cx="358.5" cy="180.7" r="2.0"/><circle cx="358.7" cy="180.2" r="2.0"/><circle cx="359.0" cy="179.3" r="2.0"/><circle cx="359.2" cy="178.6" r="2.0"/><circle cx="359.8" cy="178.0" r="2.0"/><circle cx="360.5" cy="180.6" r="2.0"/><circle cx="360.2" cy="175.5" r="2.0"/><circle cx="361.3" cy="181.7" r="2.0"/><circle cx="361.4" cy="178.0" r="2.0"/><circle cx="361.3" cy="175.6" r="2.0"/><circle cx="362.0" cy="176.1" r="2.0"/><circle cx="361.7" cy="175.3" r="2.0"/><circle cx="361.9" cy="177.2" r="2.0"/><circle cx="362.4" cy="174.6" r="2.0"/><circle cx="363.0" cy="179.3" r="2.0"/><circle cx="363.3" cy="173.9" r="2.0"/><circle cx="363.6" cy="169.6" r="2.0"/><circle cx="364.1" cy="173.4" r="2.0"/><circle cx="363.8" cy="169.7" r="2.0"/><circle cx="364.9" cy="174.6" r="2.0"/><circle cx="364.7" cy="177.2" r="2.0"/><circle cx="365.2" cy="175.7" r="2.0"/><circle cx="365.6" cy="169.9" r="2.0"/><circle cx="365.7" cy="171.0" r="2.0"/><circle cx="366.0" cy="177.5" r="2.0"/><circle cx="366.4" cy="173.0" r="2.0"/><circle cx="367.1" cy="171.6" r="2.0"/><circle cx="367.6" cy="174.1" r="2.0"/><circle cx="367.9" cy="177.4" r="2.0"/><circle cx="367.8" cy="172.2" r="2.0"/><circle cx="368.2" cy="170.0" r="2.0"/><circle cx="368.4" cy="169.9" r="2.0"/><circle cx="369.2" cy="169.9" r="2.0"/><circle cx="368.8" cy="167.6" r="2.0"/><circle cx="370.1" cy="166.6" r="2.0"/><circle cx="369.9" cy="168.1" r="2.0"/><circle cx="370.1" cy="166.2" r="2.0"/><circle cx="370.8" cy="167.4" r="2.0"/><circle cx="371.3" cy="167.4" r="2.0"/><circle cx="371.5" cy="170.7" r="2.0"/><circle cx="372.0" cy="165.4" r="2.0"/><circle cx="372.1" cy="166.3" r="2.0"/><circle cx="372.7" cy="166.1" r="2.0"/><circle cx="373.1" cy="166.8" r="2.0"/><circle cx="373.0" cy="167.6" r="2.0"/><circle cx="373.8" cy="164.9" r="2.0"/><circle cx="373.7" cy="164.2" r="2.0"/><circle cx="374.0" cy="162.7" r="2.0"/><circle cx="374.1" cy="163.7" r="2.0"/><circle cx="374.6" cy="165.9" r="2.0"/><circle cx="375.2" cy="164.9" r="2.0"/><circle cx="374.9" cy="163.0" r="2.0"/><circle cx="375.8" cy="163.9" r="2.0"/><circle cx="376.1" cy="164.4" r="2.0"/><circle cx="376.4" cy="165.0" r="2.0"/><circle cx="376.0" cy="163.0" r="2.0"/><circle cx="376.9" cy="163.4" r="2.0"/><circle cx="377.5" cy="160.6" r="2.0"/><circle cx="377.4" cy="161.6" r="2.0"/><circle cx="378.0" cy="166.1" r="2.0"/><circle cx="377.6" cy="159.5" r="2.0"/><circle cx="378.8" cy="162.4" r="2.0"/><circle cx="378.8" cy="163.2" r="2.0"/><circle cx="379.5" cy="162.0" r="2.0"/><circle cx="379.1" cy="161.1" r="2.0"/><circle cx="380.1" cy="162.2" r="2.0"/><circle cx="380.2" cy="162.1" r="2.0"/><circle cx="380.8" cy="161.8" r="2.0"/><circle cx="380.7" cy="158.5" r="2.0"/><circle cx="381.1" cy="161.3" r="2.0"/><circle cx="382.3" cy="159.9" r="2.0"/><circle cx="381.7" cy="160.2" r="2.0"/><circle cx="382.0" cy="161.3" r="2.0"/><circle cx="382.5" cy="161.9" r="2.0"/><circle cx="382.6" cy="162.1" r="2.0"/><circle cx="383.6" cy="159.4" r="2.0"/><circle cx="384.1" cy="161.7" r="2.0"/><circle cx="383.7" cy="162.0" r="2.0"/><circle cx="383.7" cy="161.7" r="2.0"/><circle cx="384.9" cy="162.0" r="2.0"/><circle cx="385.2" cy="159.0" r="2.0"/><circle cx="385.5" cy="158.8" r="2.0"/><circle cx="385.9" cy="160.4" r="2.0"/><circle cx="385.6" cy="156.2" r="2.0"/><circle cx="386.2" cy="158.9" r="2.0"/><circle cx="386.1" cy="157.4" r="2.0"/><circle cx="386.4" cy="157.6" r="2.0"/><circle cx="387.5" cy="154.9" r="2.0"/><circle cx="387.3" cy="156.4" r="2.0"/><circle cx="388.5" cy="157.9" r="2.0"/><circle cx="388.2" cy="159.4" r="2.0"/><circle cx="388.3" cy="159.6" r="2.0"/><circle cx="389.1" cy="157.5" r="2.0"/><circle cx="389.7" cy="157.3" r="2.0"/><circle cx="389.7" cy="156.0" r="2.0"/><circle cx="389.5" cy="158.3" r="2.0"/><circle cx="390.3" cy="157.0" r="2.0"/><circle cx="390.9" cy="158.5" r="2.0"/><circle cx="390.7" cy="160.7" r="2.0"/><circle cx="390.9" cy="157.2" r="2.0"/><circle cx="391.8" cy="154.4" r="2.0"/><circle cx="391.9" cy="155.6" r="2.0"/><circle cx="391.8" cy="154.4" r="2.0"/><circle cx="392.4" cy="154.8" r="2.0"/><circle cx="392.6" cy="159.6" r="2.0"/><circle cx="393.2" cy="157.5" r="2.0"/><circle cx="393.5" cy="154.1" r="2.0"/><circle cx="394.1" cy="158.2" r="2.0"/><circle cx="394.3" cy="159.4" r="2.0"/><circle cx="394.0" cy="156.2" r="2.0"/><circle cx="394.9" cy="155.6" r="2.0"/><circle cx="395.4" cy="156.2" r="2.0"/><circle cx="395.6" cy="157.4" r="2.0"/><circle cx="396.1" cy="158.1" r="2.0"/><circle cx="395.9" cy="159.1" r="2.0"/><circle cx="396.2" cy="159.2" r="2.0"/><circle cx="397.0" cy="159.1" r="2.0"/><circle cx="396.8" cy="159.5" r="2.0"/><circle cx="396.8" cy="158.1" r="2.0"/><circle cx="398.1" cy="153.8" r="2.0"/><circle cx="397.9" cy="156.6" r="2.0"/><circle cx="398.3" cy="157.4" r="2.0"/><circle cx="398.3" cy="156.1" r="2.0"/><circle cx="398.7" cy="158.7" r="2.0"/><circle cx="399.1" cy="156.2" r="2.0"/><circle cx="399.6" cy="155.0" r="2.0"/><circle cx="400.2" cy="159.8" r="2.0"/><circle cx="399.7" cy="158.3" r="2.0"/><circle cx="401.0" cy="157.4" r="2.0"/><circle cx="400.7" cy="158.9" r="2.0"/><circle cx="401.1" cy="159.2" r="2.0"/><circle cx="401.9" cy="157.8" r="2.0"/><circle cx="402.0" cy="152.1" r="2.0"/><circle cx="401.9" cy="155.8" r="2.0"/><circle cx="403.3" cy="156.3" r="2.0"/><circle cx="402.8" cy="155.2" r="2.0"/><circle cx="403.4" cy="157.7" r="2.0"/><circle cx="403.8" cy="159.8" r="2.0"/><circle cx="404.5" cy="156.4" r="2.0"/><circle cx="404.2" cy="155.1" r="2.0"/><circle cx="405.0" cy="161.7" r="2.0"/><circle cx="404.8" cy="156.6" r="2.0"/><circle cx="405.7" cy="155.0" r="2.0"/><circle cx="405.5" cy="158.2" r="2.0"/><circle cx="405.9" cy="158.6" r="2.0"/><circle cx="406.9" cy="156.3" r="2.0"/><circle cx="406.8" cy="159.5" r="2.0"/><circle cx="407.0" cy="156.8" r="2.0"/><circle cx="408.0" cy="156.0" r="2.0"/><circle cx="407.8" cy="158.4" r="2.0"/><circle cx="407.7" cy="159.7" r="2.0"/><circle cx="408.5" cy="156.8" r="2.0"/><circle cx="408.3" cy="158.9" r="2.0"/><circle cx="409.3" cy="158.1" r="2.0"/><circle cx="409.7" cy="164.4" r="2.0"/><circle cx="409.5" cy="156.9" r="2.0"/><circle cx="409.8" cy="161.5" r="2.0"/><circle cx="410.4" cy="158.5" r="2.0"/><circle cx="410.6" cy="158.4" r="2.0"/><circle cx="410.7" cy="160.3" r="2.0"/><circle cx="411.5" cy="160.8" r="2.0"/><circle cx="411.0" cy="161.7" r="2.0"/><circle cx="411.8" cy="159.8" r="2.0"/><circle cx="412.2" cy="157.8" r="2.0"/><circle cx="412.5" cy="158.1" r="2.0"/><circle cx="413.0" cy="160.5" r="2.0"/><circle cx="412.9" cy="160.7" r="2.0"/><circle cx="413.8" cy="162.7" r="2.0"/><circle cx="413.9" cy="160.6" r="2.0"/><circle cx="414.1" cy="162.1" r="2.0"/><circle cx="414.2" cy="163.3" r="2.0"/><circle cx="414.6" cy="160.4" r="2.0"/><circle cx="415.4" cy="156.8" r="2.0"/><circle cx="415.3" cy="157.6" r="2.0"/><circle cx="415.9" cy="157.2" r="2.0"/><circle cx="416.6" cy="164.1" r="2.0"/><circle cx="416.9" cy="158.7" r="2.0"/><circle cx="417.4" cy="163.5" r="2.0"/><circle cx="417.1" cy="162.2" r="2.0"/><circle cx="417.2" cy="164.9" r="2.0"/><circle cx="418.2" cy="163.4" r="2.0"/><circle cx="418.3" cy="161.0" r="2.0"/><circle cx="418.9" cy="160.9" r="2.0"/><circle cx="418.9" cy="161.7" r="2.0"/><circle cx="419.6" cy="162.1" r="2.0"/><circle cx="419.8" cy="160.6" r="2.0"/><circle cx="420.1" cy="161.9" r="2.0"/><circle cx="420.4" cy="165.9" r="2.0"/><circle cx="420.6" cy="158.4" r="2.0"/><circle cx="420.9" cy="163.1" r="2.0"/><circle cx="421.3" cy="160.6" r="2.0"/><circle cx="421.8" cy="163.3" r="2.0"/><circle cx="421.7" cy="165.0" r="2.0"/><circle cx="422.7" cy="163.1" r="2.0"/><circle cx="422.5" cy="165.2" r="2.0"/><circle cx="423.1" cy="159.9" r="2.0"/><circle cx="423.1" cy="166.4" r="2.0"/><circle cx="423.4" cy="162.6" r="2.0"/><circle cx="424.4" cy="165.7" r="2.0"/><circle cx="424.1" cy="164.9" r="2.0"/><circle cx="424.1" cy="158.5" r="2.0"/><circle cx="424.6" cy="163.1" r="2.0"/><circle cx="425.1" cy="165.6" r="2.0"/><circle cx="426.1" cy="169.0" r="2.0"/><circle cx="425.9" cy="166.2" r="2.0"/><circle cx="426.4" cy="166.3" r="2.0"/><circle cx="426.2" cy="162.5" r="2.0"/><circle cx="426.9" cy="169.6" r="2.0"/><circle cx="427.3" cy="170.7" r="2.0"/><circle cx="428.0" cy="166.6" r="2.0"/><circle cx="427.6" cy="166.2" r="2.0"/><circle cx="428.3" cy="163.1" r="2.0"/><circle cx="428.5" cy="169.3" r="2.0"/><circle cx="428.5" cy="173.9" r="2.0"/><circle cx="429.1" cy="169.3" r="2.0"/><circle cx="429.4" cy="170.9" r="2.0"/><circle cx="429.1" cy="169.3" r="2.0"/><circle cx="430.3" cy="165.8" r="2.0"/><circle cx="430.6" cy="171.7" r="2.0"/><circle cx="430.6" cy="165.6" r="2.0"/><circle cx="430.7" cy="168.3" r="2.0"/><circle cx="431.9" cy="169.8" r="2.0"/><circle cx="431.8" cy="171.5" r="2.0"/><circle cx="432.4" cy="170.5" r="2.0"/><circle cx="432.8" cy="170.7" r="2.0"/><circle cx="432.6" cy="168.1" r="2.0"/><circle cx="433.3" cy="167.0" r="2.0"/><circle cx="433.3" cy="170.6" r="2.0"/><circle cx="433.7" cy="168.9" r="2.0"/><circle cx="434.0" cy="167.6" r="2.0"/><circle cx="434.4" cy="167.9" r="2.0"/><circle cx="435.1" cy="170.1" r="2.0"/><circle cx="435.1" cy="166.9" r="2.0"/><circle cx="435.3" cy="168.4" r="2.0"/><circle cx="435.6" cy="167.9" r="2.0"/><circle cx="436.1" cy="172.7" r="2.0"/><circle cx="436.1" cy="173.5" r="2.0"/><circle cx="436.5" cy="177.8" r="2.0"/><circle cx="437.0" cy="169.1" r="2.0"/><circle cx="437.2" cy="171.4" r="2.0"/><circle cx="437.7" cy="175.7" r="2.0"/><circle cx="437.8" cy="173.0" r="2.0"/><circle cx="439.0" cy="173.0" r="2.0"/><circle cx="439.1" cy="178.4" r="2.0"/><circle cx="439.1" cy="173.4" r="2.0"/><circle cx="439.3" cy="171.5" r="2.0"/><circle cx="440.3" cy="171.3" r="2.0"/><circle cx="440.1" cy="175.8" r="2.0"/><circle cx="440.3" cy="176.0" r="2.0"/><circle cx="440.8" cy="171.8" r="2.0"/><circle cx="441.1" cy="173.0" r="2.0"/><circle cx="441.7" cy="177.2" r="2.0"/><circle cx="441.6" cy="177.5" r="2.0"/><circle cx="442.6" cy="174.6" r="2.0"/><circle cx="442.0" cy="178.1" r="2.0"/><circle cx="442.8" cy="178.2" r="2.0"/><circle cx="442.7" cy="172.2" r="2.0"/><circle cx="443.8" cy="176.3" r="2.0"/><circle cx="443.5" cy="178.4" r="2.0"/><circle cx="443.9" cy="176.0" r="2.0"/><circle cx="444.6" cy="172.1" r="2.0"/><circle cx="445.0" cy="177.2" r="2.0"/><circle cx="444.6" cy="180.2" r="2.0"/><circle cx="445.2" cy="182.6" r="2.0"/><circle cx="445.2" cy="172.8" r="2.0"/><circle cx="446.0" cy="185.9" r="2.0"/><circle cx="446.2" cy="176.1" r="2.0"/><circle cx="446.5" cy="181.9" r="2.0"/><circle cx="446.7" cy="182.9" r="2.0"/><circle cx="447.1" cy="182.5" r="2.0"/><circle cx="447.4" cy="180.5" r="2.0"/><circle cx="448.1" cy="177.2" r="2.0"/><circle cx="448.7" cy="182.3" r="2.0"/><circle cx="448.0" cy="179.0" r="2.0"/><circle cx="448.9" cy="174.3" r="2.0"/><circle cx="449.1" cy="189.1" r="2.0"/><circle cx="449.7" cy="183.7" r="2.0"/><circle cx="449.6" cy="187.0" r="2.0"/><circle cx="450.2" cy="179.8" r="2.0"/><circle cx="450.2" cy="186.7" r="2.0"/><circle cx="451.1" cy="187.3" r="2.0"/><circle cx="451.2" cy="187.6" r="2.0"/><circle cx="451.5" cy="183.6" r="2.0"/><circle cx="452.0" cy="180.7" r="2.0"/><circle cx="452.1" cy="183.8" r="2.0"/><circle cx="452.1" cy="178.6" r="2.0"/><circle cx="453.0" cy="180.3" r="2.0"/><circle cx="453.3" cy="185.7" r="2.0"/><circle cx="453.5" cy="183.0" r="2.0"/><circle cx="454.2" cy="185.7" r="2.0"/><circle cx="454.6" cy="186.2" r="2.0"/><circle cx="454.2" cy="192.3" r="2.0"/><circle cx="454.6" cy="191.0" r="2.0"/><circle cx="455.6" cy="187.6" r="2.0"/><circle cx="455.9" cy="191.5" r="2.0"/><circle cx="455.6" cy="186.3" r="2.0"/><circle cx="455.8" cy="188.0" r="2.0"/><circle cx="456.3" cy="191.9" r="2.0"/><circle cx="456.7" cy="186.3" r="2.0"/></g>
<line x1="289.2" y1="42.6" x2="330.9" y2="42.6" stroke="#eb6a6a" stroke-width="3"/>
<rect x="47.5" y="1.35" width="409" height="376.15" fill="none" stroke="#1f1512" stroke-width="3"/>
<line x1="129.3" y1="370.2" x2="129.3" y2="377" stroke="#1f1512" stroke-width="2.6"/>
<line x1="211.1" y1="370.2" x2="211.1" y2="377" stroke="#1f1512" stroke-width="2.6"/>
<line x1="292.9" y1="370.2" x2="292.9" y2="377" stroke="#1f1512" stroke-width="2.6"/>
<line x1="374.7" y1="370.2" x2="374.7" y2="377" stroke="#1f1512" stroke-width="2.6"/>
<line x1="88.4" y1="378" x2="88.4" y2="382.7" stroke="#1f1512" stroke-width="2.6"/>
<line x1="170.2" y1="378" x2="170.2" y2="382.7" stroke="#1f1512" stroke-width="2.6"/>
<line x1="252" y1="378" x2="252" y2="382.7" stroke="#1f1512" stroke-width="2.6"/>
<line x1="333.8" y1="378" x2="333.8" y2="382.7" stroke="#1f1512" stroke-width="2.6"/>
<line x1="415.6" y1="378" x2="415.6" y2="382.7" stroke="#1f1512" stroke-width="2.6"/>
<path d="M578.9,276.7 L579.4,280.8 L579.8,277.6 L580.3,277.8 L580.7,283.1 L581.2,279.2 L581.6,280.8 L582.1,282.6 L582.5,283.1 L583.0,280.2 L583.4,281.2 L583.9,279.1 L584.3,285.6 L584.8,282.9 L585.2,278.6 L585.7,281.4 L586.1,283.2 L586.6,282.7 L587.0,286.1 L587.5,285.0 L587.9,280.3 L588.4,281.5 L588.8,278.6 L589.3,282.5 L589.7,282.3 L590.2,288.7 L590.6,282.3 L591.1,276.9 L591.5,280.5 L592.0,282.5 L592.4,279.2 L592.9,280.2 L593.3,281.5 L593.8,283.4 L594.2,282.2 L594.7,280.5 L595.1,284.7 L595.6,281.5 L596.0,281.7 L596.5,279.6 L596.9,281.1 L597.4,284.8 L597.8,279.2 L598.3,283.2 L598.7,285.2 L599.2,282.6 L599.6,284.2 L600.1,280.9 L600.5,287.1 L601.0,286.7 L601.4,284.6 L601.9,279.7 L602.3,281.6 L602.8,286.7 L603.2,288.7 L603.7,285.2 L604.1,287.7 L604.6,283.2 L605.0,284.3 L605.5,284.9 L605.9,286.1 L606.4,281.3 L606.8,287.6 L607.3,288.6 L607.7,282.5 L608.2,282.1 L608.6,286.5 L609.1,284.1 L609.5,279.9 L610.0,288.0 L610.4,286.4 L610.9,285.0 L611.3,291.5 L611.8,286.7 L612.2,284.6 L612.7,286.9 L613.1,284.1 L613.6,285.0 L614.0,288.0 L614.5,285.7 L614.9,286.1 L615.4,291.6 L615.8,289.7 L616.3,289.7 L616.7,289.1 L617.2,289.1 L617.6,291.7 L618.1,288.1 L618.5,293.0 L619.0,286.1 L619.4,288.0 L619.9,285.3 L620.3,288.0 L620.8,290.3 L621.2,292.8 L621.7,287.6 L622.1,289.4 L622.6,288.6 L623.0,287.8 L623.5,286.8 L623.9,290.1 L624.4,285.7 L624.8,290.5 L625.3,290.4 L625.7,288.8 L626.2,288.0 L626.6,287.2 L627.1,295.5 L627.5,287.6 L628.0,294.9 L628.4,292.7 L628.9,290.4 L629.3,288.5 L629.8,294.1 L630.2,295.9 L630.7,289.4 L631.1,291.0 L631.6,294.5 L632.0,292.8 L632.5,297.1 L632.9,290.8 L633.4,293.6 L633.8,289.3 L634.3,297.7 L634.7,290.8 L635.2,287.2 L635.6,292.5 L636.1,292.5 L636.5,297.7 L637.0,292.2 L637.4,293.1 L637.9,294.7 L638.3,297.3 L638.8,293.3 L639.2,296.1 L639.7,294.9 L640.1,292.9 L640.6,294.0 L641.0,293.9 L641.5,291.7 L641.9,297.1 L642.4,290.7 L642.8,297.1 L643.3,296.7 L643.7,294.2 L644.2,292.6 L644.6,294.0 L645.1,295.8 L645.5,296.6 L646.0,295.6 L646.4,297.4 L646.9,293.6 L647.3,295.7 L647.8,291.3 L648.2,297.2 L648.7,295.8 L649.1,294.4 L649.6,298.5 L650.0,297.4 L650.5,288.7 L650.9,295.9 L651.4,292.3 L651.8,298.7 L652.3,302.3 L652.7,294.9 L653.2,296.5 L653.6,295.8 L654.1,297.4 L654.5,298.2 L655.0,299.9 L655.4,294.3 L655.9,300.8 L656.3,294.6 L656.8,297.7 L657.2,300.0 L657.7,299.0 L658.1,294.9 L658.6,295.6 L659.0,296.3 L659.5,297.4 L659.9,300.5 L660.4,294.5 L660.8,299.0 L661.3,299.4 L661.7,299.4 L662.2,299.3 L662.6,302.0 L663.1,299.5 L663.5,300.5 L664.0,299.9 L664.4,303.0 L664.9,293.9 L665.3,301.9 L665.8,298.2 L666.2,298.2 L666.7,296.6 L667.1,294.4 L667.6,298.3 L668.0,297.6 L668.5,300.6 L668.9,295.8 L669.4,303.2 L669.8,300.4 L670.3,299.2 L670.7,298.1 L671.2,298.1 L671.6,297.3 L672.1,298.9 L672.5,300.4 L673.0,300.0 L673.4,297.0 L673.9,300.0 L674.3,298.5 L674.8,301.3 L675.2,305.7 L675.7,302.7 L676.1,300.4 L676.6,297.3 L677.0,297.9 L677.5,297.3 L677.9,303.5 L678.4,299.9 L678.8,302.0 L679.3,300.4 L679.7,302.3 L680.2,305.7 L680.6,300.6 L681.1,301.6 L681.5,300.5 L682.0,304.8 L682.4,300.2 L682.9,300.0 L683.3,299.5 L683.8,299.6 L684.2,304.4 L684.7,309.7 L685.1,300.9 L685.6,305.9 L686.0,304.3 L686.5,301.0 L686.9,303.1 L687.4,303.3 L687.8,302.3 L688.3,309.0 L688.7,299.5 L689.2,305.3 L689.6,305.3 L690.1,303.1 L690.5,305.0 L691.0,306.9 L691.4,305.2 L691.9,306.0 L692.3,306.8 L692.8,300.0 L693.2,308.9 L693.7,311.0 L694.1,307.9 L694.6,308.1 L695.0,302.1 L695.5,305.4 L695.9,303.8 L696.4,304.4 L696.8,308.4 L697.3,304.1 L697.7,305.9 L698.2,301.5 L698.6,306.0 L699.1,306.7 L699.5,304.8 L700.0,304.9 L700.4,311.5 L700.9,303.8 L701.3,304.3 L701.8,305.0 L702.2,310.1 L702.7,312.5 L703.1,308.1 L703.6,305.6 L704.0,306.4 L704.5,310.2 L704.9,305.4 L705.4,311.4 L705.8,311.4 L706.3,308.1 L706.7,309.6 L707.2,310.0 L707.6,312.0 L708.1,305.6 L708.5,311.3 L709.0,307.5 L709.4,306.6 L709.9,308.8 L710.3,308.1 L710.8,306.2 L711.2,304.8 L711.7,306.5 L712.1,312.6 L712.6,313.9 L713.0,310.7 L713.5,312.1 L713.9,307.9 L714.4,309.1 L714.8,310.1 L715.3,306.7 L715.7,307.0 L716.2,309.8 L716.6,308.9 L717.1,307.1 L717.5,310.8 L718.0,309.2 L718.4,312.5 L718.9,310.0 L719.3,309.3 L719.8,310.5 L720.2,309.8 L720.7,308.6 L721.1,309.3 L721.6,312.3 L722.0,312.1 L722.5,313.8 L722.9,306.4 L723.4,309.7 L723.8,309.7 L724.3,311.3 L724.7,309.8 L725.2,309.7 L725.6,313.0 L726.1,311.6 L726.5,308.3 L727.0,314.6 L727.4,313.9 L727.9,310.0 L728.3,313.6 L728.8,309.8 L729.2,314.5 L729.7,311.2 L730.1,309.9 L730.6,311.0 L731.0,310.1 L731.5,312.6 L731.9,312.6 L732.4,312.4 L732.8,311.0 L733.3,303.3 L733.7,312.8 L734.2,307.9 L734.6,313.3 L735.1,315.6 L735.5,313.6 L736.0,312.0 L736.4,312.6 L736.9,312.8 L737.3,311.9 L737.8,311.9 L738.2,311.1 L738.7,316.5 L739.1,313.6 L739.6,316.1 L740.0,313.2 L740.5,314.1 L740.9,313.5 L741.4,315.2 L741.8,316.2 L742.3,314.8 L742.7,312.6 L743.2,312.4 L743.6,318.6 L744.1,313.9 L744.5,313.9 L745.0,318.4 L745.4,317.5 L745.9,316.2 L746.3,314.0 L746.8,320.9 L747.2,316.1 L747.7,316.5 L748.1,314.8 L748.6,311.8 L749.0,312.1 L749.5,316.5 L749.9,316.5 L750.4,315.0 L750.8,312.7 L751.3,312.1 L751.7,315.0 L752.2,312.2 L752.6,318.2 L753.1,318.9 L753.5,323.1 L754.0,318.3 L754.4,314.7 L754.9,314.1 L755.3,307.7 L755.8,314.9 L756.2,316.0 L756.7,318.9 L757.1,318.1 L757.6,318.1 L758.0,317.2 L758.5,318.4 L758.9,320.4 L759.4,314.2 L759.8,315.8 L760.3,313.5 L760.7,321.1 L761.2,320.4 L761.6,319.1 L762.1,314.2 L762.5,317.7 L763.0,316.8 L763.4,317.6 L763.9,317.0 L764.3,318.9 L764.8,316.7 L765.2,319.9 L765.7,318.4 L766.1,317.1 L766.6,317.7 L767.0,316.9 L767.5,320.1 L767.9,317.5 L768.4,319.0 L768.8,317.4 L769.3,314.7 L769.7,320.8 L770.2,316.0 L770.6,320.4 L771.1,319.8 L771.5,314.7 L772.0,316.6 L772.4,317.8 L772.9,317.1 L773.3,316.3 L773.8,321.2 L774.2,318.8 L774.7,320.5 L775.1,318.5 L775.6,320.5 L776.0,317.9 L776.5,319.8 L776.9,321.4 L777.4,320.2 L777.8,319.0 L778.3,317.5 L778.7,320.7 L779.2,321.3 L779.6,319.8 L780.1,318.6 L780.5,322.0 L781.0,326.9 L781.4,320.1 L781.9,321.7 L782.3,321.9 L782.8,314.6 L783.2,321.5 L783.7,319.5 L784.1,324.8 L784.6,320.8 L785.0,319.5 L785.5,321.0 L785.9,322.1 L786.4,320.3 L786.8,321.7 L787.3,318.5 L787.7,321.4 L788.2,324.0 L788.6,327.1 L789.1,324.0 L789.5,323.0 L790.0,325.3 L790.4,325.0 L790.9,326.7 L791.3,325.3 L791.8,322.4 L792.2,323.4 L792.7,323.3 L793.1,323.7 L793.6,323.5 L794.0,321.1 L794.5,317.9 L794.9,321.5 L795.4,318.2 L795.8,323.5 L796.3,323.4 L796.7,319.3 L797.2,325.2 L797.6,325.7 L798.1,323.9 L798.5,327.9 L799.0,328.4 L799.4,320.8 L799.9,326.4 L800.3,325.0 L800.8,325.0 L801.2,326.3 L801.7,322.3 L802.1,322.6 L802.6,322.1 L803.0,322.3 L803.5,324.0 L803.9,320.7 L804.4,321.7 L804.8,325.8 L805.3,324.2 L805.7,325.4 L806.2,319.8 L806.6,322.6 L807.1,323.2 L807.5,324.7 L808.0,323.2 L808.4,327.0 L808.9,324.6 L809.3,324.8 L809.8,324.8 L810.2,326.6 L810.7,323.7 L811.1,327.7 L811.6,326.1 L812.0,325.4 L812.5,325.1 L812.9,326.4 L813.4,327.6 L813.8,327.5 L814.3,326.1 L814.7,327.4 L815.2,325.5 L815.6,328.4 L816.1,325.3 L816.5,320.2 L817.0,328.8 L817.4,325.7 L817.9,322.6 L818.3,325.0 L818.8,323.4 L819.2,330.9 L819.7,326.9 L820.1,321.8 L820.6,327.1 L821.0,324.8 L821.5,330.6 L821.9,323.2 L822.4,320.3 L822.8,326.1 L823.3,325.1 L823.7,325.0 L824.2,320.7 L824.6,327.2 L825.1,330.4 L825.5,321.4 L826.0,329.2 L826.4,324.9 L826.9,332.2 L827.3,327.5 L827.8,326.0 L828.2,329.2 L828.7,327.8 L829.1,325.1 L829.6,328.4 L830.0,325.4 L830.5,322.2 L830.9,331.8 L831.4,325.9 L831.8,325.3 L832.3,327.7 L832.7,323.0 L833.2,323.6 L833.6,325.8 L834.1,325.8 L834.5,327.3 L835.0,330.0 L835.4,326.0 L835.9,328.5 L836.3,328.8 L836.8,324.7 L837.2,328.0 L837.7,325.1 L838.1,330.2 L838.6,328.7 L839.0,327.7 L839.5,324.3 L839.9,328.0 L840.4,325.9 L840.8,329.6 L841.3,327.6 L841.7,325.9 L842.2,330.3 L842.6,329.9 L843.1,326.7 L843.5,331.1 L844.0,327.5 L844.4,327.6 L844.9,328.7 L845.3,326.6 L845.8,327.4 L846.2,328.2 L846.7,332.5 L847.1,332.5 L847.6,328.1 L848.0,332.9 L848.5,328.8 L848.9,329.9 L849.4,331.3 L849.8,329.9 L850.3,335.2 L850.7,329.9 L851.2,326.3 L851.6,332.7 L852.1,328.4 L852.5,328.8 L853.0,322.1 L853.4,332.2 L853.9,331.8 L854.3,331.8 L854.8,332.3 L855.2,334.2 L855.7,329.9 L856.1,332.4 L856.6,328.3 L857.0,329.3 L857.5,332.9 L857.9,331.3 L858.4,327.1 L858.8,331.4 L859.3,330.1 L859.7,328.5 L860.2,331.7 L860.6,329.7 L861.1,326.9 L861.5,328.1 L862.0,335.3 L862.4,327.2 L862.9,331.6 L863.3,332.6 L863.8,332.8 L864.2,328.2 L864.7,330.5 L865.1,331.7 L865.6,333.4 L866.0,329.9 L866.5,328.7 L866.9,334.1 L867.4,334.5 L867.8,332.7 L868.3,330.3 L868.7,332.9 L869.2,332.2 L869.6,334.1 L870.1,329.0 L870.5,332.5 L871.0,331.8 L871.4,329.5 L871.9,332.9 L872.3,332.5 L872.8,331.5 L873.2,333.6 L873.7,329.1 L874.1,332.6 L874.6,333.8 L875.0,333.5 L875.5,335.6 L875.9,330.0 L876.4,329.3 L876.8,333.7 L877.3,334.3 L877.7,338.5 L878.2,334.8 L878.6,331.2 L879.1,335.5 L879.5,331.4 L880.0,329.9 L880.4,340.2 L880.9,334.5 L881.3,335.6 L881.8,335.3 L882.2,338.5 L882.7,334.7 L883.1,337.1 L883.6,331.6 L884.0,330.7 L884.5,337.8 L884.9,338.0 L885.4,335.7 L885.8,335.1 L886.3,335.0 L886.7,332.9 L887.2,338.5 L887.6,336.4 L888.1,336.1 L888.5,335.9 L889.0,337.6 L889.4,336.3 L889.9,337.0 L890.3,332.3 L890.8,336.5 L891.2,340.8 L891.7,334.1 L892.1,335.1 L892.6,337.8 L893.0,338.0 L893.5,337.2 L893.9,331.7 L894.4,337.1 L894.8,332.9 L895.3,333.9 L895.7,337.4 L896.2,335.3 L896.6,338.2 L897.1,344.1 L897.5,338.2 L898.0,338.1 L898.4,334.1 L898.9,334.8 L899.3,333.8 L899.8,335.2 L900.2,333.9 L900.7,335.0 L901.1,336.2 L901.6,334.3 L902.0,333.3 L902.5,333.5 L902.9,338.1 L903.4,337.2 L903.8,339.7 L904.3,339.8 L904.7,336.4 L905.2,339.0 L905.6,333.7 L906.1,343.1 L906.5,340.5 L907.0,337.0 L907.4,334.7 L907.9,338.6 L908.3,333.0 L908.8,335.8 L909.2,339.7 L909.7,338.1 L910.1,336.7 L910.6,340.4 L911.0,335.4 L911.5,338.8 L911.9,336.9 L912.4,336.1 L912.8,339.4 L913.3,335.8 L913.7,343.1 L914.2,337.0 L914.6,343.4 L915.1,335.8 L915.5,340.1 L916.0,335.6 L916.4,335.3 L916.9,339.1 L917.3,340.5 L917.8,335.6 L918.2,341.8 L918.7,336.9 L919.1,339.3 L919.6,340.0 L920.0,340.6 L920.5,334.6 L920.9,343.2 L921.4,340.6 L921.8,338.2 L922.3,336.8 L922.7,335.1 L923.2,336.0 L923.6,340.8 L924.1,338.6 L924.5,336.7 L925.0,338.3 L925.4,343.5 L925.9,338.9 L926.3,338.3 L926.8,343.1 L927.2,341.0 L927.7,340.0 L928.1,338.4 L928.6,336.1 L929.0,337.1 L929.5,338.8 L929.9,339.5 L930.4,341.0 L930.8,341.5 L931.3,340.8 L931.7,340.8 L932.2,337.8 L932.6,335.0 L933.1,339.1 L933.5,338.0 L934.0,338.8 L934.4,339.8 L934.9,337.5 L935.3,337.8 L935.8,340.4 L936.2,341.0 L936.7,339.1 L937.1,342.0 L937.6,340.3 L938.0,338.3 L938.5,341.0 L938.9,345.7 L939.4,339.3 L939.8,344.0 L940.3,344.6 L940.7,344.9 L941.2,339.1 L941.6,346.3 L942.1,341.6 L942.5,340.7 L943.0,340.8 L943.4,342.9 L943.9,341.6 L944.3,341.1 L944.8,344.8 L945.2,339.8 L945.7,339.0 L946.1,343.7 L946.6,343.5 L947.0,344.5 L947.5,339.2 L947.9,344.6 L948.4,343.1 L948.8,346.4 L949.3,338.9 L949.7,342.6 L950.2,341.4 L950.6,338.2" fill="none" stroke="#737373" stroke-width="3.0" stroke-linejoin="round"/>
<path d="M580.4,180.1 L580.9,185.6 L581.3,181.6 L581.8,181.3 L582.2,186.1 L582.7,186.9 L583.1,187.3 L583.6,182.8 L584.0,185.2 L584.5,188.6 L584.9,184.3 L585.4,184.5 L585.8,189.2 L586.3,191.6 L586.7,184.5 L587.2,180.9 L587.6,184.5 L588.1,186.1 L588.5,188.8 L589.0,191.3 L589.4,189.6 L589.9,188.4 L590.3,191.2 L590.8,188.5 L591.2,191.4 L591.7,190.1 L592.1,199.6 L592.6,194.9 L593.0,190.7 L593.5,190.6 L593.9,192.5 L594.4,189.6 L594.8,192.4 L595.3,192.8 L595.7,197.6 L596.2,194.3 L596.6,193.6 L597.1,192.4 L597.5,193.1 L598.0,196.5 L598.4,196.4 L598.9,200.3 L599.3,195.8 L599.8,200.7 L600.2,198.7 L600.7,198.3 L601.1,193.0 L601.6,195.2 L602.0,201.1 L602.5,203.1 L602.9,200.1 L603.4,201.8 L603.8,198.8 L604.3,199.2 L604.7,198.6 L605.2,203.3 L605.6,201.8 L606.1,200.5 L606.5,200.4 L607.0,203.1 L607.4,202.7 L607.9,199.7 L608.3,206.9 L608.8,203.1 L609.2,202.7 L609.7,206.9 L610.1,205.9 L610.6,203.1 L611.0,205.0 L611.5,200.8 L611.9,202.2 L612.4,198.0 L612.8,207.8 L613.3,199.5 L613.7,206.8 L614.2,202.8 L614.6,202.7 L615.1,205.0 L615.5,206.5 L616.0,207.7 L616.4,211.1 L616.9,207.4 L617.3,209.1 L617.8,205.2 L618.2,209.1 L618.7,207.8 L619.1,206.3 L619.6,207.5 L620.0,207.8 L620.5,208.7 L620.9,209.5 L621.4,207.3 L621.8,206.8 L622.3,211.2 L622.7,204.7 L623.2,207.8 L623.6,214.0 L624.1,202.6 L624.5,208.3 L625.0,212.4 L625.4,206.2 L625.9,218.1 L626.3,204.1 L626.8,215.4 L627.2,215.9 L627.7,214.4 L628.1,211.5 L628.6,213.4 L629.0,210.2 L629.5,215.1 L629.9,210.1 L630.4,212.6 L630.8,216.4 L631.3,210.8 L631.7,213.2 L632.2,214.9 L632.6,211.0 L633.1,218.1 L633.5,216.1 L634.0,211.3 L634.4,215.6 L634.9,213.8 L635.3,214.4 L635.8,216.6 L636.2,214.7 L636.7,219.6 L637.1,215.2 L637.6,220.1 L638.0,217.5 L638.5,220.3 L638.9,216.7 L639.4,217.0 L639.8,215.4 L640.3,220.4 L640.7,221.7 L641.2,225.1 L641.6,223.1 L642.1,220.5 L642.5,219.4 L643.0,221.3 L643.4,220.4 L643.9,224.7 L644.3,223.5 L644.8,218.8 L645.2,219.5 L645.7,225.4 L646.1,222.7 L646.6,221.4 L647.0,225.5 L647.5,221.4 L647.9,221.9 L648.4,221.7 L648.8,217.8 L649.3,225.7 L649.7,220.3 L650.2,222.2 L650.6,222.0 L651.1,226.2 L651.5,224.3 L652.0,224.7 L652.4,220.3 L652.9,224.8 L653.3,221.2 L653.8,226.3 L654.2,226.7 L654.7,225.9 L655.1,231.7 L655.6,227.8 L656.0,228.2 L656.5,227.1 L656.9,226.4 L657.4,229.8 L657.8,230.4 L658.3,224.0 L658.7,230.6 L659.2,229.4 L659.6,230.8 L660.1,229.6 L660.5,225.1 L661.0,225.5 L661.4,233.9 L661.9,229.8 L662.3,225.4 L662.8,230.5 L663.2,228.7 L663.7,224.8 L664.1,223.8 L664.6,225.9 L665.0,231.2 L665.5,230.5 L665.9,230.2 L666.4,231.8 L666.8,232.9 L667.3,225.6 L667.7,230.8 L668.2,229.5 L668.6,228.6 L669.1,230.6 L669.5,232.0 L670.0,231.8 L670.4,228.7 L670.9,231.5 L671.3,238.6 L671.8,230.3 L672.2,228.7 L672.7,234.3 L673.1,235.3 L673.6,235.1 L674.0,231.0 L674.5,237.0 L674.9,232.2 L675.4,231.4 L675.8,233.1 L676.3,234.6 L676.7,237.1 L677.2,237.0 L677.6,235.4 L678.1,238.2 L678.5,236.0 L679.0,238.5 L679.4,232.3 L679.9,232.1 L680.3,238.7 L680.8,233.0 L681.2,236.2 L681.7,236.9 L682.1,236.1 L682.6,236.4 L683.0,241.7 L683.5,231.1 L683.9,240.7 L684.4,244.9 L684.8,238.8 L685.3,239.0 L685.7,241.2 L686.2,244.5 L686.6,236.4 L687.1,240.2 L687.5,239.7 L688.0,241.9 L688.4,241.0 L688.9,242.6 L689.3,239.8 L689.8,241.3 L690.2,239.5 L690.7,239.7 L691.1,241.3 L691.6,241.5 L692.0,238.8 L692.5,246.5 L692.9,242.0 L693.4,238.7 L693.8,245.7 L694.3,240.8 L694.7,244.4 L695.2,243.1 L695.6,244.0 L696.1,243.9 L696.5,242.0 L697.0,243.8 L697.4,249.5 L697.9,237.9 L698.3,244.3 L698.8,245.5 L699.2,241.5 L699.7,240.8 L700.1,250.7 L700.6,243.9 L701.0,250.8 L701.5,246.7 L701.9,245.6 L702.4,246.8 L702.8,247.5 L703.3,249.1 L703.7,247.3 L704.2,246.6 L704.6,246.9 L705.1,250.3 L705.5,249.0 L706.0,244.2 L706.4,245.4 L706.9,248.2 L707.3,245.8 L707.8,246.7 L708.2,245.2 L708.7,247.3 L709.1,249.4 L709.6,251.2 L710.0,248.6 L710.5,254.5 L710.9,248.7 L711.4,257.9 L711.8,252.0 L712.3,250.8 L712.7,248.3 L713.2,242.0 L713.6,249.5 L714.1,250.6 L714.5,255.5 L715.0,246.6 L715.4,255.8 L715.9,250.0 L716.3,252.8 L716.8,243.9 L717.2,251.4 L717.7,250.2 L718.1,253.2 L718.6,251.7 L719.0,248.4 L719.5,254.3 L719.9,253.7 L720.4,253.5 L720.8,254.8 L721.3,255.1 L721.7,252.1 L722.2,248.6 L722.6,248.6 L723.1,256.2 L723.5,254.6 L724.0,253.0 L724.4,251.7 L724.9,253.0 L725.3,253.1 L725.8,252.2 L726.2,251.4 L726.7,259.3 L727.1,254.1 L727.6,252.0 L728.0,250.2 L728.5,251.9 L728.9,256.0 L729.4,256.2 L729.8,253.6 L730.3,254.5 L730.7,253.6 L731.2,251.5 L731.6,258.3 L732.1,255.9 L732.5,261.8 L733.0,253.0 L733.4,254.8 L733.9,257.8 L734.3,254.8 L734.8,251.8 L735.2,253.1 L735.7,256.1 L736.1,256.9 L736.6,255.8 L737.0,259.0 L737.5,259.1 L737.9,257.4 L738.4,256.7 L738.8,256.0 L739.3,258.4 L739.7,259.5 L740.2,257.3 L740.6,258.5 L741.1,256.5 L741.5,253.6 L742.0,254.9 L742.4,259.9 L742.9,259.1 L743.3,262.4 L743.8,258.3 L744.2,260.7 L744.7,262.1 L745.1,261.3 L745.6,257.0 L746.0,258.4 L746.5,259.4 L746.9,256.4 L747.4,260.6 L747.8,262.3 L748.3,258.3 L748.7,265.1 L749.2,259.1 L749.6,259.5 L750.1,259.5 L750.5,258.4 L751.0,261.6 L751.4,260.6 L751.9,265.3 L752.3,262.5 L752.8,262.5 L753.2,260.5 L753.7,257.4 L754.1,261.2 L754.6,259.2 L755.0,264.3 L755.5,261.7 L755.9,266.5 L756.4,264.1 L756.8,264.5 L757.3,262.9 L757.7,263.0 L758.2,264.4 L758.6,265.2 L759.1,260.9 L759.5,264.4 L760.0,270.4 L760.4,263.0 L760.9,262.7 L761.3,261.7 L761.8,259.7 L762.2,267.1 L762.7,264.1 L763.1,264.9 L763.6,269.3 L764.0,271.2 L764.5,262.0 L764.9,267.4 L765.4,266.3 L765.8,265.7 L766.3,266.0 L766.7,264.7 L767.2,269.2 L767.6,266.5 L768.1,265.8 L768.5,268.2 L769.0,267.3 L769.4,266.1 L769.9,265.7 L770.3,269.6 L770.8,266.2 L771.2,264.5 L771.7,262.4 L772.1,263.7 L772.6,261.8 L773.0,264.9 L773.5,265.3 L773.9,258.9 L774.4,264.6 L774.8,266.3 L775.3,264.9 L775.7,261.8 L776.2,267.9 L776.6,262.4 L777.1,260.9 L777.5,261.3 L778.0,264.2 L778.4,266.8 L778.9,267.3 L779.3,264.6 L779.8,260.7 L780.2,262.1 L780.7,261.4 L781.1,263.3 L781.6,258.8 L782.0,263.9 L782.5,265.2 L782.9,262.9 L783.4,264.5 L783.8,260.5 L784.3,258.9 L784.7,261.0 L785.2,265.8 L785.6,265.2 L786.1,260.9 L786.5,265.3 L787.0,260.9 L787.4,265.7 L787.9,262.7 L788.3,259.8 L788.8,263.0 L789.2,258.4 L789.7,257.7 L790.1,255.9 L790.6,260.1 L791.0,258.6 L791.5,257.9 L791.9,256.3 L792.4,260.7 L792.8,254.8 L793.3,253.2 L793.7,257.9 L794.2,257.6 L794.6,254.0 L795.1,247.6 L795.5,250.1 L796.0,252.8 L796.4,250.6 L796.9,254.2 L797.3,245.5 L797.8,250.6 L798.2,246.4 L798.7,251.1 L799.1,246.7 L799.6,249.1 L800.0,243.9 L800.5,241.2 L800.9,241.4 L801.4,242.2 L801.8,240.4 L802.3,245.8 L802.7,245.6 L803.2,242.0 L803.6,237.7 L804.1,239.5 L804.5,237.2 L805.0,242.3 L805.4,238.4 L805.9,238.2 L806.3,234.9 L806.8,229.7 L807.2,232.4 L807.7,230.7 L808.1,234.0 L808.6,232.5 L809.0,229.3 L809.5,229.8 L809.9,234.5 L810.4,226.9 L810.8,226.4 L811.3,227.8 L811.7,225.9 L812.2,226.1 L812.6,228.2 L813.1,231.0 L813.5,220.8 L814.0,225.1 L814.4,224.8 L814.9,224.0 L815.3,223.2 L815.8,222.3 L816.2,225.5 L816.7,221.0 L817.1,221.5 L817.6,221.4 L818.0,221.3 L818.5,220.1 L818.9,222.8 L819.4,219.6 L819.8,219.7 L820.3,218.6 L820.7,215.6 L821.2,215.6 L821.6,214.6 L822.1,217.6 L822.5,214.7 L823.0,213.3 L823.4,216.5 L823.9,216.9 L824.3,210.3 L824.8,219.4 L825.2,214.6 L825.7,213.9 L826.1,216.9 L826.6,213.9 L827.0,211.8 L827.5,219.2 L827.9,210.0 L828.4,212.5 L828.8,214.8 L829.3,209.3 L829.7,211.8 L830.2,213.0 L830.6,218.3 L831.1,209.2 L831.5,211.4 L832.0,213.3 L832.4,211.6 L832.9,208.1 L833.3,212.6 L833.8,211.9 L834.2,213.0 L834.7,215.1 L835.1,215.0 L835.6,213.6 L836.0,213.7 L836.5,210.1 L836.9,213.2 L837.4,214.5 L837.8,213.2 L838.3,215.0 L838.7,212.9 L839.2,219.9 L839.6,222.0 L840.1,215.4 L840.5,218.0 L841.0,216.7 L841.4,221.2 L841.9,219.4 L842.3,218.9 L842.8,218.5 L843.2,219.9 L843.7,217.3 L844.1,222.4 L844.6,219.1 L845.0,223.1 L845.5,222.6 L845.9,225.8 L846.4,223.3 L846.8,226.7 L847.3,222.0 L847.7,226.8 L848.2,225.2 L848.6,227.0 L849.1,227.3 L849.5,230.3 L850.0,222.9 L850.4,230.0 L850.9,225.8 L851.3,234.0 L851.8,226.1 L852.2,229.6 L852.7,228.7 L853.1,238.8 L853.6,231.7 L854.0,236.6 L854.5,235.8 L854.9,233.3 L855.4,238.3 L855.8,242.0 L856.3,240.6 L856.7,244.6 L857.2,241.8 L857.6,243.6 L858.1,243.3 L858.5,246.0 L859.0,251.0 L859.4,247.4 L859.9,247.6 L860.3,246.0 L860.8,246.3 L861.2,253.0 L861.7,246.6 L862.1,247.7 L862.6,250.6 L863.0,250.2 L863.5,257.4 L863.9,246.1 L864.4,254.2 L864.8,255.7 L865.3,251.2 L865.7,253.1 L866.2,256.7 L866.6,260.5 L867.1,254.1 L867.5,252.9 L868.0,260.5 L868.4,262.6 L868.9,258.1 L869.3,253.5 L869.8,264.2 L870.2,260.3 L870.7,264.5 L871.1,261.9 L871.6,261.6 L872.0,262.0 L872.5,267.9 L872.9,268.3 L873.4,259.1 L873.8,262.9 L874.3,270.9 L874.7,265.5 L875.2,263.3 L875.6,267.5 L876.1,267.7 L876.5,268.1 L877.0,267.5 L877.4,268.4 L877.9,268.4 L878.3,271.0 L878.8,268.3 L879.2,270.1 L879.7,270.9 L880.1,275.3 L880.6,273.1 L881.0,272.2 L881.5,274.3 L881.9,274.3 L882.4,276.6 L882.8,275.3 L883.3,279.1 L883.7,278.2 L884.2,274.7 L884.6,273.9 L885.1,277.7 L885.5,276.9 L886.0,275.4 L886.4,271.7 L886.9,270.9 L887.3,277.0 L887.8,278.3 L888.2,278.5 L888.7,272.9 L889.1,279.4 L889.6,275.2 L890.0,277.8 L890.5,278.0 L890.9,274.8 L891.4,275.4 L891.8,271.5 L892.3,274.7 L892.7,272.4 L893.2,278.6 L893.6,277.7 L894.1,280.1 L894.5,278.6 L895.0,276.0 L895.4,278.7 L895.9,276.8 L896.3,279.6 L896.8,278.8 L897.2,275.3 L897.7,278.1 L898.1,278.3 L898.6,277.3 L899.0,280.7 L899.5,282.9 L899.9,277.3 L900.4,277.4 L900.8,272.2 L901.3,278.1 L901.7,277.3 L902.2,272.5 L902.6,279.3 L903.1,280.2 L903.5,276.6 L904.0,277.6 L904.4,276.0 L904.9,280.8 L905.3,274.6 L905.8,277.9 L906.2,284.2 L906.7,279.0 L907.1,280.2 L907.6,278.5 L908.0,275.7 L908.5,278.9 L908.9,280.1 L909.4,276.2 L909.8,280.0 L910.3,282.5 L910.7,282.1 L911.2,274.8 L911.6,276.5 L912.1,274.8 L912.5,282.2 L913.0,280.9 L913.4,281.2 L913.9,276.8 L914.3,276.1 L914.8,279.5 L915.2,279.6 L915.7,276.9 L916.1,279.7 L916.6,281.1 L917.0,279.9 L917.5,276.4 L917.9,273.5 L918.4,278.6 L918.8,279.8 L919.3,278.6 L919.7,278.1 L920.2,277.4 L920.6,281.3 L921.1,279.2 L921.5,279.6 L922.0,276.6 L922.4,277.6 L922.9,279.8 L923.3,276.5 L923.8,275.8 L924.2,278.4 L924.7,282.6 L925.1,279.8 L925.6,283.3 L926.0,278.9 L926.5,278.4 L926.9,275.5 L927.4,277.7 L927.8,283.2 L928.3,280.2 L928.7,281.3 L929.2,281.2 L929.6,279.3 L930.1,278.7 L930.5,279.6 L931.0,281.1 L931.4,280.6 L931.9,280.7 L932.3,279.7 L932.8,277.2 L933.2,278.6 L933.7,276.7 L934.1,282.1 L934.6,273.5 L935.0,278.7 L935.5,285.9 L935.9,278.4 L936.4,276.2 L936.8,279.3 L937.3,282.9 L937.7,278.9 L938.2,281.1 L938.6,279.7 L939.1,278.4 L939.5,288.1 L940.0,279.6 L940.4,278.0 L940.9,278.1 L941.3,280.5 L941.8,280.6 L942.2,281.6 L942.7,279.9 L943.1,275.6 L943.6,281.1 L944.0,278.8 L944.5,278.8 L944.9,275.6 L945.4,278.1 L945.8,277.7 L946.3,279.6 L946.7,275.8 L947.2,279.9 L947.6,280.2 L948.1,276.8 L948.5,278.2 L949.0,277.5 L949.4,282.4 L949.9,273.0 L950.3,279.0" fill="none" stroke="#e8333a" stroke-width="3.0" stroke-linejoin="round"/>
<path d="M578.3,134.4 L578.8,138.0 L579.2,141.8 L579.7,138.1 L580.1,140.4 L580.6,138.0 L581.0,145.8 L581.5,143.3 L581.9,144.2 L582.4,137.8 L582.8,138.7 L583.3,144.8 L583.7,141.6 L584.2,141.7 L584.6,143.6 L585.1,139.5 L585.5,145.3 L586.0,143.5 L586.4,144.9 L586.9,142.1 L587.3,145.5 L587.8,142.4 L588.2,147.1 L588.7,147.8 L589.1,147.4 L589.6,146.6 L590.0,147.1 L590.5,138.3 L590.9,148.0 L591.4,145.2 L591.8,146.4 L592.3,145.6 L592.7,142.7 L593.2,145.2 L593.6,148.6 L594.1,150.8 L594.5,145.5 L595.0,144.9 L595.4,151.4 L595.9,145.2 L596.3,153.3 L596.8,148.0 L597.2,145.6 L597.7,150.8 L598.1,152.9 L598.6,144.5 L599.0,152.7 L599.5,147.9 L599.9,152.8 L600.4,147.9 L600.8,144.8 L601.3,150.5 L601.7,151.8 L602.2,155.1 L602.6,154.2 L603.1,151.5 L603.5,149.1 L604.0,148.5 L604.4,149.2 L604.9,147.9 L605.3,149.5 L605.8,143.5 L606.2,151.0 L606.7,150.6 L607.1,157.7 L607.6,152.9 L608.0,149.7 L608.5,152.7 L608.9,148.0 L609.4,149.8 L609.8,146.5 L610.3,155.6 L610.7,153.4 L611.2,148.8 L611.6,152.0 L612.1,154.8 L612.5,153.7 L613.0,153.6 L613.4,150.4 L613.9,151.1 L614.3,153.2 L614.8,155.6 L615.2,151.0 L615.7,150.3 L616.1,156.6 L616.6,151.1 L617.0,156.7 L617.5,154.6 L617.9,156.4 L618.4,158.9 L618.8,156.2 L619.3,156.6 L619.7,152.1 L620.2,152.9 L620.6,156.6 L621.1,159.1 L621.5,158.9 L622.0,161.5 L622.4,156.3 L622.9,156.1 L623.3,158.4 L623.8,155.9 L624.2,155.8 L624.7,153.3 L625.1,158.9 L625.6,153.5 L626.0,157.9 L626.5,152.9 L626.9,159.8 L627.4,154.2 L627.8,159.4 L628.3,153.0 L628.7,156.2 L629.2,160.7 L629.6,155.5 L630.1,158.0 L630.5,156.7 L631.0,151.9 L631.4,159.1 L631.9,159.6 L632.3,155.6 L632.8,160.2 L633.2,156.7 L633.7,156.3 L634.1,159.1 L634.6,157.4 L635.0,165.5 L635.5,155.3 L635.9,161.6 L636.4,162.4 L636.8,154.5 L637.3,155.3 L637.7,161.6 L638.2,158.9 L638.6,161.3 L639.1,163.5 L639.5,159.5 L640.0,157.7 L640.4,153.3 L640.9,161.4 L641.3,158.4 L641.8,161.9 L642.2,161.7 L642.7,157.5 L643.1,165.9 L643.6,164.3 L644.0,163.8 L644.5,158.4 L644.9,160.6 L645.4,160.3 L645.8,160.7 L646.3,158.9 L646.7,163.2 L647.2,162.7 L647.6,163.2 L648.1,160.9 L648.5,165.8 L649.0,162.9 L649.4,155.1 L649.9,160.9 L650.3,162.5 L650.8,165.4 L651.2,162.0 L651.7,162.2 L652.1,161.2 L652.6,164.9 L653.0,161.9 L653.5,161.6 L653.9,161.3 L654.4,164.9 L654.8,162.0 L655.3,159.0 L655.7,165.3 L656.2,161.8 L656.6,164.7 L657.1,164.8 L657.5,167.1 L658.0,166.8 L658.4,162.4 L658.9,163.6 L659.3,160.6 L659.8,168.7 L660.2,165.5 L660.7,168.1 L661.1,163.5 L661.6,158.9 L662.0,168.7 L662.5,164.8 L662.9,165.0 L663.4,164.9 L663.8,166.5 L664.3,166.3 L664.7,160.6 L665.2,167.9 L665.6,163.6 L666.1,163.8 L666.5,169.8 L667.0,167.7 L667.4,164.4 L667.9,160.4 L668.3,165.9 L668.8,167.0 L669.2,165.4 L669.7,162.3 L670.1,163.7 L670.6,162.5 L671.0,166.6 L671.5,168.3 L671.9,168.9 L672.4,164.3 L672.8,167.0 L673.3,168.0 L673.7,165.2 L674.2,166.3 L674.6,172.5 L675.1,167.4 L675.5,169.3 L676.0,165.8 L676.4,167.2 L676.9,162.6 L677.3,167.2 L677.8,170.6 L678.2,173.1 L678.7,170.7 L679.1,169.4 L679.6,167.7 L680.0,166.0 L680.5,167.2 L680.9,169.3 L681.4,165.6 L681.8,170.2 L682.3,165.1 L682.7,163.0 L683.2,165.1 L683.6,163.3 L684.1,164.1 L684.5,170.9 L685.0,167.3 L685.4,168.5 L685.9,171.0 L686.3,171.3 L686.8,166.6 L687.2,171.6 L687.7,169.0 L688.1,168.0 L688.6,169.2 L689.0,164.2 L689.5,165.9 L689.9,167.8 L690.4,169.8 L690.8,167.1 L691.3,167.8 L691.7,170.8 L692.2,172.0 L692.6,170.3 L693.1,171.7 L693.5,167.3 L694.0,167.6 L694.4,169.3 L694.9,167.7 L695.3,167.2 L695.8,173.1 L696.2,168.2 L696.7,166.2 L697.1,170.1 L697.6,173.9 L698.0,169.2 L698.5,172.4 L698.9,167.9 L699.4,167.9 L699.8,167.4 L700.3,169.0 L700.7,174.4 L701.2,166.4 L701.6,174.0 L702.1,166.9 L702.5,169.1 L703.0,172.0 L703.4,171.5 L703.9,170.6 L704.3,165.5 L704.8,171.0 L705.2,167.3 L705.7,177.0 L706.1,169.6 L706.6,170.7 L707.0,167.1 L707.5,168.9 L707.9,166.8 L708.4,172.9 L708.8,169.6 L709.3,171.8 L709.7,168.5 L710.2,168.9 L710.6,173.8 L711.1,167.7 L711.5,165.4 L712.0,171.4 L712.4,167.2 L712.9,169.1 L713.3,172.8 L713.8,168.1 L714.2,172.7 L714.7,168.5 L715.1,174.3 L715.6,173.9 L716.0,169.0 L716.5,169.7 L716.9,168.1 L717.4,170.8 L717.8,173.4 L718.3,166.4 L718.7,172.8 L719.2,166.7 L719.6,168.0 L720.1,165.5 L720.5,176.0 L721.0,170.5 L721.4,171.0 L721.9,168.5 L722.3,173.2 L722.8,164.6 L723.2,170.4 L723.7,176.3 L724.1,169.3 L724.6,170.3 L725.0,172.1 L725.5,168.1 L725.9,170.4 L726.4,172.9 L726.8,170.8 L727.3,171.3 L727.7,169.4 L728.2,171.1 L728.6,170.4 L729.1,174.2 L729.5,172.2 L730.0,169.6 L730.4,163.6 L730.9,172.2 L731.3,172.3 L731.8,167.7 L732.2,164.8 L732.7,167.1 L733.1,172.7 L733.6,167.3 L734.0,168.9 L734.5,170.7 L734.9,173.4 L735.4,170.0 L735.8,169.8 L736.3,168.5 L736.7,174.4 L737.2,172.9 L737.6,169.7 L738.1,166.2 L738.5,167.8 L739.0,171.5 L739.4,167.9 L739.9,172.3 L740.3,170.8 L740.8,170.6 L741.2,171.6 L741.7,171.2 L742.1,167.5 L742.6,168.9 L743.0,176.1 L743.5,166.5 L743.9,168.5 L744.4,172.7 L744.8,169.4 L745.3,167.6 L745.7,166.3 L746.2,171.3 L746.6,172.6 L747.1,173.7 L747.5,170.1 L748.0,172.8 L748.4,167.2 L748.9,170.5 L749.3,168.3 L749.8,170.7 L750.2,172.3 L750.7,173.2 L751.1,167.7 L751.6,173.8 L752.0,169.2 L752.5,167.8 L752.9,170.1 L753.4,166.7 L753.8,170.7 L754.3,171.6 L754.7,170.3 L755.2,172.4 L755.6,170.2 L756.1,171.1 L756.5,167.3 L757.0,171.3 L757.4,169.0 L757.9,170.1 L758.3,171.2 L758.8,172.0 L759.2,167.1 L759.7,167.4 L760.1,170.9 L760.6,173.0 L761.0,172.8 L761.5,174.3 L761.9,175.4 L762.4,173.3 L762.8,172.0 L763.3,169.3 L763.7,169.6 L764.2,170.9 L764.6,172.9 L765.1,172.9 L765.5,172.3 L766.0,172.0 L766.4,174.2 L766.9,173.1 L767.3,173.4 L767.8,173.5 L768.2,171.2 L768.7,170.0 L769.1,174.1 L769.6,174.0 L770.0,172.3 L770.5,171.8 L770.9,179.2 L771.4,171.0 L771.8,172.5 L772.3,173.8 L772.7,170.0 L773.2,173.5 L773.6,178.1 L774.1,175.8 L774.5,175.0 L775.0,174.9 L775.4,173.6 L775.9,175.9 L776.3,172.9 L776.8,172.0 L777.2,173.2 L777.7,175.0 L778.1,173.0 L778.6,173.5 L779.0,165.7 L779.5,173.8 L779.9,176.3 L780.4,172.9 L780.8,167.8 L781.3,165.7 L781.7,168.1 L782.2,164.0 L782.6,167.8 L783.1,163.6 L783.5,166.6 L784.0,166.7 L784.4,156.5 L784.9,161.8 L785.3,158.1 L785.8,155.1 L786.2,156.3 L786.7,156.3 L787.1,158.7 L787.6,150.8 L788.0,156.7 L788.5,158.3 L788.9,153.4 L789.4,152.2 L789.8,149.7 L790.3,145.5 L790.7,149.2 L791.2,147.8 L791.6,147.9 L792.1,152.0 L792.5,146.3 L793.0,144.7 L793.4,146.9 L793.9,138.3 L794.3,137.9 L794.8,139.0 L795.2,137.2 L795.7,139.7 L796.1,135.7 L796.6,139.8 L797.0,137.7 L797.5,134.1 L797.9,129.3 L798.4,130.4 L798.8,129.2 L799.3,122.3 L799.7,124.4 L800.2,123.6 L800.6,120.6 L801.1,122.5 L801.5,119.8 L802.0,112.4 L802.4,113.2 L802.9,108.7 L803.3,110.6 L803.8,104.8 L804.2,107.8 L804.7,104.5 L805.1,104.2 L805.6,99.4 L806.0,94.1 L806.5,101.0 L806.9,94.0 L807.4,96.4 L807.8,92.1 L808.3,91.0 L808.7,92.4 L809.2,86.7 L809.6,87.8 L810.1,78.4 L810.5,83.1 L811.0,78.5 L811.4,77.2 L811.9,76.1 L812.3,75.6 L812.8,77.7 L813.2,66.9 L813.7,70.7 L814.1,67.4 L814.6,71.3 L815.0,65.9 L815.5,67.1 L815.9,63.6 L816.4,65.4 L816.8,65.2 L817.3,60.2 L817.7,60.3 L818.2,55.2 L818.6,58.7 L819.1,59.0 L819.5,54.0 L820.0,57.4 L820.4,47.7 L820.9,47.1 L821.3,47.3 L821.8,48.5 L822.2,48.7 L822.7,47.1 L823.1,45.7 L823.6,46.3 L824.0,41.0 L824.5,36.3 L824.9,33.5 L825.4,39.9 L825.8,25.6 L826.3,29.9 L826.7,33.8 L827.2,30.8 L827.6,26.9 L828.1,28.9 L828.5,31.0 L829.0,31.8 L829.4,26.1 L829.9,30.7 L830.3,29.7 L830.8,32.6 L831.2,34.1 L831.7,30.1 L832.1,27.7 L832.6,33.3 L833.0,37.8 L833.5,35.5 L833.9,35.1 L834.4,41.6 L834.8,33.0 L835.3,38.8 L835.7,35.2 L836.2,37.2 L836.6,37.5 L837.1,41.6 L837.5,35.1 L838.0,36.3 L838.4,33.5 L838.9,39.3 L839.3,36.9 L839.8,39.5 L840.2,35.7 L840.7,38.1 L841.1,42.4 L841.6,39.8 L842.0,42.7 L842.5,43.3 L842.9,41.8 L843.4,39.5 L843.8,47.3 L844.3,46.2 L844.7,49.6 L845.2,42.9 L845.6,45.3 L846.1,45.5 L846.5,50.5 L847.0,57.3 L847.4,57.7 L847.9,57.8 L848.3,59.9 L848.8,63.3 L849.2,62.1 L849.7,65.7 L850.1,66.7 L850.6,62.3 L851.0,69.0 L851.5,75.6 L851.9,72.7 L852.4,75.2 L852.8,75.8 L853.3,77.9 L853.7,83.9 L854.2,81.8 L854.6,81.4 L855.1,77.4 L855.5,85.9 L856.0,83.7 L856.4,85.7 L856.9,94.4 L857.3,95.8 L857.8,90.4 L858.2,99.6 L858.7,100.2 L859.1,98.5 L859.6,104.2 L860.0,99.4 L860.5,102.1 L860.9,102.9 L861.4,105.3 L861.8,112.1 L862.3,107.5 L862.7,109.4 L863.2,111.3 L863.6,115.7 L864.1,115.6 L864.5,120.1 L865.0,117.1 L865.4,116.8 L865.9,120.2 L866.3,122.9 L866.8,121.4 L867.2,125.9 L867.7,131.1 L868.1,125.8 L868.6,128.6 L869.0,133.2 L869.5,128.9 L869.9,129.4 L870.4,129.8 L870.8,134.9 L871.3,136.3 L871.7,135.6 L872.2,137.2 L872.6,141.6 L873.1,141.6 L873.5,136.6 L874.0,141.5 L874.4,142.9 L874.9,145.6 L875.3,144.1 L875.8,144.0 L876.2,145.5 L876.7,142.9 L877.1,148.6 L877.6,147.9 L878.0,151.7 L878.5,148.6 L878.9,151.1 L879.4,150.5 L879.8,151.1 L880.3,156.6 L880.7,154.2 L881.2,157.4 L881.6,153.8 L882.1,157.7 L882.5,153.3 L883.0,157.1 L883.4,157.4 L883.9,160.8 L884.3,160.2 L884.8,159.6 L885.2,162.8 L885.7,161.5 L886.1,162.8 L886.6,163.8 L887.0,161.9 L887.5,161.6 L887.9,163.6 L888.4,161.9 L888.8,164.4 L889.3,166.6 L889.7,166.1 L890.2,162.9 L890.6,160.7 L891.1,164.1 L891.5,164.0 L892.0,167.4 L892.4,163.3 L892.9,163.8 L893.3,166.3 L893.8,162.9 L894.2,163.7 L894.7,168.7 L895.1,167.9 L895.6,165.5 L896.0,164.3 L896.5,160.8 L896.9,164.8 L897.4,163.2 L897.8,163.5 L898.3,161.3 L898.7,162.4 L899.2,161.7 L899.6,162.9 L900.1,165.6 L900.5,162.5 L901.0,156.9 L901.4,158.5 L901.9,156.7 L902.3,158.6 L902.8,162.0 L903.2,161.4 L903.7,158.5 L904.1,160.7 L904.6,157.8 L905.0,155.8 L905.5,155.7 L905.9,157.0 L906.4,163.0 L906.8,155.4 L907.3,162.2 L907.7,162.3 L908.2,158.0 L908.6,158.2 L909.1,156.6 L909.5,158.0 L910.0,159.7 L910.4,157.8 L910.9,160.3 L911.3,160.6 L911.8,158.2 L912.2,158.0 L912.7,156.8 L913.1,157.7 L913.6,153.6 L914.0,157.5 L914.5,156.9 L914.9,153.8 L915.4,161.8 L915.8,153.2 L916.3,153.3 L916.7,156.2 L917.2,150.1 L917.6,153.0 L918.1,150.9 L918.5,152.2 L919.0,154.3 L919.4,155.4 L919.9,157.3 L920.3,156.4 L920.8,157.2 L921.2,155.4 L921.7,152.4 L922.1,156.5 L922.6,152.0 L923.0,151.5 L923.5,157.1 L923.9,155.0 L924.4,153.2 L924.8,154.5 L925.3,154.7 L925.7,148.5 L926.2,151.7 L926.6,148.6 L927.1,151.9 L927.5,149.6 L928.0,154.9 L928.4,152.5 L928.9,148.7 L929.3,150.7 L929.8,147.3 L930.2,150.5 L930.7,151.7 L931.1,150.8 L931.6,144.7 L932.0,148.8 L932.5,150.9 L932.9,150.2 L933.4,152.3 L933.8,145.6 L934.3,150.3 L934.7,147.0 L935.2,149.1 L935.6,149.5 L936.1,150.1 L936.5,146.5 L937.0,148.4 L937.4,144.6 L937.9,143.8 L938.3,149.0 L938.8,147.2 L939.2,142.8 L939.7,144.7 L940.1,146.9 L940.6,150.9 L941.0,149.4 L941.5,148.5 L941.9,141.4 L942.4,145.8 L942.8,147.2 L943.3,146.8 L943.7,146.8 L944.2,144.9 L944.6,150.1 L945.1,149.2 L945.5,144.8 L946.0,142.3 L946.4,150.3 L946.9,143.1 L947.3,147.7 L947.8,149.5 L948.2,141.6 L948.7,144.8 L949.1,143.0 L949.6,145.1" fill="none" stroke="#3465b5" stroke-width="3.0" stroke-linejoin="round"/>
<line x1="743.7" y1="168.6" x2="743.7" y2="377" stroke="#2b3fa0" stroke-width="2.2" stroke-dasharray="10 8" stroke-dashoffset="17.6"/>
<line x1="832.8" y1="32" x2="832.8" y2="377" stroke="#2b3fa0" stroke-width="2.2" stroke-dasharray="10 8" stroke-dashoffset="8.6"/>
<line x1="893.4" y1="168.6" x2="893.4" y2="377" stroke="#2b3fa0" stroke-width="2.2" stroke-dasharray="10 8" stroke-dashoffset="17.6"/>
<rect x="532.2" y="2.5" width="464.3" height="375.1" fill="none" stroke="#1f1512" stroke-width="3"/>
<line x1="532.2" y1="378" x2="532.2" y2="384.7" stroke="#1f1512" stroke-width="2.8"/>
<line x1="578.63" y1="372.6" x2="578.63" y2="377" stroke="#1f1512" stroke-width="2.6"/>
<line x1="625.06" y1="378" x2="625.06" y2="384.7" stroke="#1f1512" stroke-width="2.8"/>
<line x1="671.49" y1="372.6" x2="671.49" y2="377" stroke="#1f1512" stroke-width="2.6"/>
<line x1="717.92" y1="378" x2="717.92" y2="384.7" stroke="#1f1512" stroke-width="2.8"/>
<line x1="764.35" y1="372.6" x2="764.35" y2="377" stroke="#1f1512" stroke-width="2.6"/>
<line x1="810.78" y1="378" x2="810.78" y2="384.7" stroke="#1f1512" stroke-width="2.8"/>
<line x1="857.21" y1="372.6" x2="857.21" y2="377" stroke="#1f1512" stroke-width="2.6"/>
<line x1="903.64" y1="378" x2="903.64" y2="384.7" stroke="#1f1512" stroke-width="2.8"/>
<line x1="950.07" y1="372.6" x2="950.07" y2="377" stroke="#1f1512" stroke-width="2.6"/>
<line x1="996.5" y1="378" x2="996.5" y2="384.7" stroke="#1f1512" stroke-width="2.8"/>
<g transform="translate(69.09,35.94) scale(1.0743,1.1122)"><text x="0" y="0" font-family='"Liberation Serif", serif' font-size="34" fill="#1a1311">(</text></g>
<g transform="translate(82.43,35.56) scale(1.2593,0.9662)"><text x="0" y="0" font-family='"Liberation Serif", serif' font-size="34" fill="#1a1311">a</text></g>
<g transform="translate(102.25,35.94) scale(1.0514,1.1122)"><text x="0" y="0" font-family='"Liberation Serif", serif' font-size="34" fill="#1a1311">)</text></g>
<g transform="translate(343.06,52.95) scale(1.1378,1.0066)"><text x="0" y="0" font-family='"Liberation Serif", serif' font-size="34" fill="#1a1311">HZO</text></g>
<g transform="translate(28.09,288.77) rotate(-90) scale(1.1749,0.9664)"><text x="0" y="0" font-family='"Liberation Serif", serif' font-size="34" fill="#1a1311">Reflectivity</text></g>
<g transform="translate(222.61,446.26) scale(0.9860,0.9538)"><text x="0" y="0" font-family='"Liberation Serif", serif' font-size="34" fill="#1a1311" font-style="italic">ω</text></g>
<g transform="translate(255.69,446.22) scale(0.9371,1.0732)"><text x="0" y="0" font-family='"Liberation Serif", serif' font-size="34" fill="#1a1311">(</text></g>
<g transform="translate(268.86,438.65) scale(0.7619,0.6244)"><text x="0" y="0" font-family='"Liberation Serif", serif' font-size="34" fill="#1a1311">°</text></g>
<g transform="translate(281.16,446.22) scale(0.9371,1.0732)"><text x="0" y="0" font-family='"Liberation Serif", serif' font-size="34" fill="#1a1311">)</text></g>
<g transform="translate(156.8,219.02) scale(1.0571,0.9657)"><text x="0" y="0" font-family='"Liberation Serif", serif' font-size="26" fill="#1a1311">W</text></g>
<g transform="translate(139.78,279.34) scale(1.0995,1.0229)"><text x="0" y="0" font-family='"Liberation Serif", serif' font-size="26" fill="#1a1311">HZO</text></g>
<g transform="translate(157.4,314.9) scale(1.0449,0.9943)"><text x="0" y="0" font-family='"Liberation Serif", serif' font-size="26" fill="#1a1311">W</text></g>
<g transform="translate(70.74,357.2) scale(1.1202,1.0609)"><text x="0" y="0" font-family='"Liberation Serif", serif' font-size="26" fill="#1a1311">Si/SiO<tspan font-size="17" dy="5">2</tspan><tspan dy="-5"> substrate</tspan></text></g>
<g transform="translate(289.15,356.31) scale(1.0004,1.0575)"><text x="0" y="0" font-family='"Liberation Serif", serif' font-size="20" fill="#2ea2c9" font-weight="bold">(o-phase, <tspan font-style="italic">P</tspan>ca2<tspan font-size="13" dy="4">1</tspan><tspan dy="-4">)</tspan></text></g>
<g transform="translate(506.89,267.22) rotate(-90) scale(1.2136,0.9667)"><text x="0" y="0" font-family='"Liberation Serif", serif' font-size="34" fill="#1a1311">Intensity</text></g>
<g transform="translate(552.24,41.71) scale(1.0400,1.1024)"><text x="0" y="0" font-family='"Liberation Serif", serif' font-size="34" fill="#1a1311">(</text></g>
<g transform="translate(566.2,41.25) scale(1.1746,0.9833)"><text x="0" y="0" font-family='"Liberation Serif", serif' font-size="34" fill="#1a1311">b</text></g>
<g transform="translate(587.58,41.71) scale(1.0171,1.1024)"><text x="0" y="0" font-family='"Liberation Serif", serif' font-size="34" fill="#1a1311">)</text></g>
<g transform="translate(575.9,123.96) scale(1.0874,0.9647)"><text x="0" y="0" font-family='"Liberation Serif", serif' font-size="31" fill="#3466b6">550</text></g>
<g transform="translate(636.01,117.34) scale(0.7263,0.6526)"><text x="0" y="0" font-family='"Liberation Serif", serif' font-size="31" fill="#3466b6">°</text></g>
<g transform="translate(643.79,123.45) scale(0.9690,0.9905)"><text x="0" y="0" font-family='"Liberation Serif", serif' font-size="31" fill="#3466b6">C</text></g>
<g transform="translate(574.37,260.57) scale(1.0570,0.9365)"><text x="0" y="0" font-family='"Liberation Serif", serif' font-size="31" fill="#e8343a">400</text></g>
<g transform="translate(634.07,254.29) scale(0.6211,0.6211)"><text x="0" y="0" font-family='"Liberation Serif", serif' font-size="31" fill="#e8343a">°</text></g>
<g transform="translate(641.05,260.75) scale(0.9972,0.9810)"><text x="0" y="0" font-family='"Liberation Serif", serif' font-size="31" fill="#e8343a">C</text></g>
<g transform="translate(576.09,338.57) scale(1.0720,0.9365)"><text x="0" y="0" font-family='"Liberation Serif", serif' font-size="31" fill="#575757">350</text></g>
<g transform="translate(636.47,332.79) scale(0.6211,0.6211)"><text x="0" y="0" font-family='"Liberation Serif", serif' font-size="31" fill="#575757">°</text></g>
<g transform="translate(643.57,338.55) scale(0.9859,0.9857)"><text x="0" y="0" font-family='"Liberation Serif", serif' font-size="31" fill="#575757">C</text></g>
<g transform="translate(776.24,30.76) scale(1.1680,0.9517)"><text x="0" y="0" font-family='"Liberation Serif", serif' font-size="30" fill="#1a1311">o</text></g>
<g transform="translate(795.2,37.34) scale(1.5152,1.4420)"><text x="0" y="0" font-family='"Liberation Serif", serif' font-size="30" fill="#1a1311">/</text></g>
<g transform="translate(809.87,30.74) scale(1.3375,1.0514)"><text x="0" y="0" font-family='"Liberation Serif", serif' font-size="30" fill="#1a1311">t</text></g>
<g transform="translate(835.76,30.91) scale(1.0710,1.0862)"><text x="0" y="0" font-family='"Liberation Serif", serif' font-size="30" fill="#1a1311">(</text></g>
<g transform="translate(846.72,30.7) scale(1.1532,0.9850)"><text x="0" y="0" font-family='"Liberation Serif", serif' font-size="30" fill="#1a1311">111</text></g>
<g transform="translate(897.03,30.91) scale(1.0710,1.0862)"><text x="0" y="0" font-family='"Liberation Serif", serif' font-size="30" fill="#1a1311">)</text></g>
<g transform="translate(751.9,152.63) rotate(-90) scale(1.0667,0.9123)"><text x="0" y="0" font-family='"Liberation Serif", serif' font-size="30" fill="#1a1311">m</text></g>
<g transform="translate(752.38,124.25) rotate(-90) scale(1.0839,1.0752)"><text x="0" y="0" font-family='"Liberation Serif", serif' font-size="30" fill="#1a1311">(</text></g>
<g transform="translate(750.13,112.88) rotate(-90) scale(0.9750,0.8889)"><text x="0" y="0" font-family='"Liberation Serif", serif' font-size="30" fill="#1a1311">-</text></g>
<g transform="translate(751.9,103.7) rotate(-90) scale(1.1584,0.9750)"><text x="0" y="0" font-family='"Liberation Serif", serif' font-size="30" fill="#1a1311">111</text></g>
<g transform="translate(752.38,53.31) rotate(-90) scale(1.0065,1.0752)"><text x="0" y="0" font-family='"Liberation Serif", serif' font-size="30" fill="#1a1311">)</text></g>
<g transform="translate(902.9,148.73) rotate(-90) scale(1.0667,0.9123)"><text x="0" y="0" font-family='"Liberation Serif", serif' font-size="30" fill="#1a1311">m</text></g>
<g transform="translate(903.31,120.35) rotate(-90) scale(1.0839,1.0862)"><text x="0" y="0" font-family='"Liberation Serif", serif' font-size="30" fill="#1a1311">(</text></g>
<g transform="translate(902.5,109.52) rotate(-90) scale(1.1299,0.9750)"><text x="0" y="0" font-family='"Liberation Serif", serif' font-size="30" fill="#1a1311">111</text></g>
<g transform="translate(903.31,59.05) rotate(-90) scale(1.0452,1.0862)"><text x="0" y="0" font-family='"Liberation Serif", serif' font-size="30" fill="#1a1311">)</text></g>
<g transform="translate(723.24,453.6) scale(1.0400,0.9822)"><text x="0" y="0" font-family='"Liberation Serif", serif' font-size="34" fill="#1a1311">2</text></g>
<g transform="translate(740.25,453.65) scale(1.0596,0.9875)"><text x="0" y="0" font-family='"Liberation Serif", serif' font-size="34" fill="#1a1311" font-style="italic">θ</text></g>
<g transform="translate(767.99,453.72) scale(0.9371,1.0732)"><text x="0" y="0" font-family='"Liberation Serif", serif' font-size="34" fill="#1a1311">(</text></g>
<g transform="translate(780.79,445.59) scale(0.7429,0.5463)"><text x="0" y="0" font-family='"Liberation Serif", serif' font-size="34" fill="#1a1311">°</text></g>
<g transform="translate(792.65,453.72) scale(0.9486,1.0732)"><text x="0" y="0" font-family='"Liberation Serif", serif' font-size="34" fill="#1a1311">)</text></g>
<g transform="translate(38.33,409.75) scale(1.1379,1.0000)"><text x="0" y="0" font-family='"Liberation Serif", serif' font-size="34" fill="#1a1311">0</text></g>
<g transform="translate(120.2,410) scale(1.0333,1.0222)"><text x="0" y="0" font-family='"Liberation Serif", serif' font-size="34" fill="#1a1311">1</text></g>
<g transform="translate(202,410) scale(1.0982,1.0222)"><text x="0" y="0" font-family='"Liberation Serif", serif' font-size="34" fill="#1a1311">2</text></g>
<g transform="translate(283.11,409.75) scale(1.1579,1.0110)"><text x="0" y="0" font-family='"Liberation Serif", serif' font-size="34" fill="#1a1311">3</text></g>
<g transform="translate(365.91,410) scale(1.0540,1.0222)"><text x="0" y="0" font-family='"Liberation Serif", serif' font-size="34" fill="#1a1311">4</text></g>
<g transform="translate(446.6,409.74) scale(1.1273,1.0222)"><text x="0" y="0" font-family='"Liberation Serif", serif' font-size="34" fill="#1a1311">5</text></g>
<g transform="translate(513.48,416.8) scale(1.0812,0.9822)"><text x="0" y="0" font-family='"Liberation Serif", serif' font-size="34" fill="#1a1311">24</text></g>
<g transform="translate(606.27,416.56) scale(1.0984,0.9714)"><text x="0" y="0" font-family='"Liberation Serif", serif' font-size="34" fill="#1a1311">26</text></g>
<g transform="translate(699.08,416.56) scale(1.1072,0.9609)"><text x="0" y="0" font-family='"Liberation Serif", serif' font-size="34" fill="#1a1311">28</text></g>
<g transform="translate(791.9,416.56) scale(1.1072,0.9609)"><text x="0" y="0" font-family='"Liberation Serif", serif' font-size="34" fill="#1a1311">30</text></g>
<g transform="translate(884.69,416.56) scale(1.1252,0.9714)"><text x="0" y="0" font-family='"Liberation Serif", serif' font-size="34" fill="#1a1311">32</text></g>
<g transform="translate(977.58,416.56) scale(1.0812,0.9714)"><text x="0" y="0" font-family='"Liberation Serif", serif' font-size="34" fill="#1a1311">34</text></g>
</svg>
</body></html>
